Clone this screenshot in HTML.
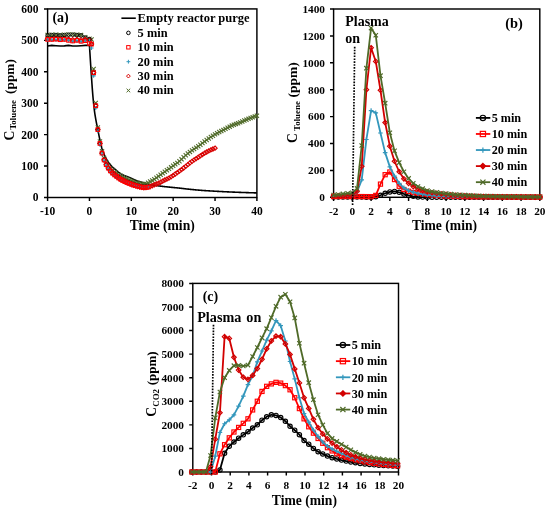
<!DOCTYPE html>
<html><head><meta charset="utf-8"><style>
html,body{margin:0;padding:0;background:#fff;}
svg{display:block;}
text{font-family:"Liberation Serif", "Times New Roman", serif;font-weight:bold;fill:#000;}
</style></head><body>
<svg width="550" height="511" viewBox="0 0 550 511">
<rect width="550" height="511" fill="#fff"/>
<rect x="47.6" y="8.92" width="209.3" height="188.58" fill="none" stroke="#000" stroke-width="1.45"/>
<path d="M47.6 197.5V201.1M89.46 197.5V201.1M131.32 197.5V201.1M173.18 197.5V201.1M215.04 197.5V201.1M256.9 197.5V201.1M44 197.5H47.6M44 166.07H47.6M44 134.64H47.6M44 103.21H47.6M44 71.78H47.6M44 40.35H47.6M44 8.92H47.6" stroke="#000" stroke-width="1.45"/>
<text x="47.6" y="215" font-size="11.5" text-anchor="middle">-10</text>
<text x="89.46" y="215" font-size="11.5" text-anchor="middle">0</text>
<text x="131.32" y="215" font-size="11.5" text-anchor="middle">10</text>
<text x="173.18" y="215" font-size="11.5" text-anchor="middle">20</text>
<text x="215.04" y="215" font-size="11.5" text-anchor="middle">30</text>
<text x="256.9" y="215" font-size="11.5" text-anchor="middle">40</text>
<text x="38.6" y="201.41" font-size="11.5" text-anchor="end">0</text>
<text x="38.6" y="169.98" font-size="11.5" text-anchor="end">100</text>
<text x="38.6" y="138.55" font-size="11.5" text-anchor="end">200</text>
<text x="38.6" y="107.12" font-size="11.5" text-anchor="end">300</text>
<text x="38.6" y="75.69" font-size="11.5" text-anchor="end">400</text>
<text x="38.6" y="44.26" font-size="11.5" text-anchor="end">500</text>
<text x="38.6" y="12.83" font-size="11.5" text-anchor="end">600</text>
<polyline points="47.6,46.01 51.79,45.38 55.97,45.69 60.16,46.01 64.34,45.85 68.53,45.38 72.72,46.01 76.9,46.01 81.09,45.69 85.27,45.38 89.46,45.38 89.46,45.38 89.88,52.3 90.3,59.01 90.72,65.51 91.13,71.78 91.55,77.96 91.97,84.08 92.39,89.9 92.81,95.18 93.23,99.77 93.65,103.92 94.06,107.7 94.48,111.09 94.9,114.09 95.32,116.74 95.74,119.15 96.16,121.44 96.58,123.61 96.99,125.65 97.41,127.62 97.83,129.62 98.25,131.71 98.67,133.87 99.09,136.03 99.51,138.11 99.93,140.04 100.34,141.91 100.76,143.75 101.18,145.51 101.6,147.16 102.02,148.66 102.44,149.97 102.86,151.17 103.27,152.31 103.69,153.39 104.11,154.41 104.53,155.37 104.95,156.28 105.37,157.15 105.79,157.96 106.2,158.74 106.62,159.47 107.04,160.17 107.46,160.84 107.88,161.48 108.3,162.09 108.72,162.68 109.13,163.25 109.55,163.79 109.97,164.31 110.39,164.81 110.81,165.29 111.23,165.75 111.65,166.2 112.06,166.63 112.48,167.03 112.9,167.41 113.32,167.78 113.74,168.13 114.16,168.48 114.58,168.83 114.99,169.18 115.41,169.53 115.83,169.89 116.25,170.26 116.67,170.63 117.09,171 117.51,171.37 117.92,171.74 118.34,172.09 118.76,172.44 119.18,172.76 119.6,173.07 120.02,173.35 120.44,173.61 120.85,173.85 121.27,174.08 121.69,174.3 122.11,174.51 122.53,174.72 122.95,174.91 123.37,175.1 123.79,175.29 124.2,175.47 124.62,175.64 125.04,175.81 125.46,175.98 125.88,176.14 126.3,176.3 126.72,176.46 127.13,176.62 127.55,176.78 127.97,176.94 128.39,177.1 128.81,177.27 129.23,177.44 129.65,177.61 130.06,177.78 130.48,177.96 130.9,178.14 131.32,178.33 131.74,178.52 132.16,178.72 132.58,178.92 132.99,179.11 133.41,179.31 133.83,179.51 134.25,179.7 134.67,179.89 135.09,180.07 135.51,180.25 135.92,180.43 136.34,180.59 136.76,180.75 137.18,180.9 137.6,181.04 138.02,181.18 138.44,181.32 138.85,181.45 139.27,181.57 139.69,181.69 140.11,181.82 140.53,181.93 140.95,182.05 141.37,182.16 141.78,182.28 142.2,182.39 142.62,182.5 143.04,182.62 143.46,182.73 143.88,182.84 144.3,182.96 144.72,183.08 145.13,183.2 145.55,183.32 145.97,183.45 146.39,183.57 146.81,183.69 147.23,183.82 147.65,183.93 148.06,184.05 148.48,184.16 148.9,184.27 149.32,184.37 149.74,184.46 150.16,184.54 150.58,184.63 150.99,184.71 151.41,184.79 151.83,184.86 152.25,184.94 152.67,185.01 153.09,185.08 153.51,185.15 153.92,185.22 154.34,185.29 154.76,185.35 155.18,185.42 155.6,185.48 156.02,185.54 156.44,185.6 156.85,185.66 157.27,185.72 157.69,185.78 158.11,185.83 158.53,185.89 158.95,185.95 159.37,186 159.78,186.06 160.2,186.11 160.62,186.16 161.04,186.21 161.46,186.27 161.88,186.32 162.3,186.36 162.72,186.41 163.13,186.46 163.55,186.51 163.97,186.55 164.39,186.6 164.81,186.65 165.23,186.69 165.65,186.74 166.06,186.78 166.48,186.82 166.9,186.87 167.32,186.91 167.74,186.95 168.16,187 168.58,187.04 168.99,187.08 169.41,187.13 169.83,187.17 170.25,187.21 170.67,187.26 171.09,187.3 171.51,187.34 171.92,187.38 172.34,187.42 172.76,187.46 173.18,187.5 173.6,187.54 174.02,187.58 174.44,187.62 174.85,187.66 175.27,187.7 175.69,187.74 176.11,187.78 176.53,187.82 176.95,187.86 177.37,187.9 177.78,187.94 178.2,187.98 178.62,188.03 179.04,188.07 179.46,188.12 179.88,188.16 180.3,188.21 180.71,188.26 181.13,188.3 181.55,188.35 181.97,188.4 182.39,188.45 182.81,188.5 183.23,188.55 183.64,188.6 184.06,188.65 184.48,188.7 184.9,188.75 185.32,188.8 185.74,188.85 186.16,188.9 186.58,188.94 186.99,188.99 187.41,189.04 187.83,189.08 188.25,189.13 188.67,189.17 189.09,189.21 189.51,189.26 189.92,189.3 190.34,189.34 190.76,189.38 191.18,189.42 191.6,189.47 192.02,189.51 192.44,189.55 192.85,189.59 193.27,189.63 193.69,189.67 194.11,189.71 194.53,189.75 194.95,189.79 195.37,189.83 195.78,189.87 196.2,189.91 196.62,189.94 197.04,189.98 197.46,190.02 197.88,190.06 198.3,190.09 198.71,190.13 199.13,190.16 199.55,190.2 199.97,190.23 200.39,190.27 200.81,190.3 201.23,190.33 201.64,190.37 202.06,190.4 202.48,190.43 202.9,190.46 203.32,190.49 203.74,190.52 204.16,190.55 204.57,190.58 204.99,190.61 205.41,190.64 205.83,190.66 206.25,190.69 206.67,190.72 207.09,190.75 207.51,190.77 207.92,190.8 208.34,190.82 208.76,190.85 209.18,190.88 209.6,190.9 210.02,190.93 210.44,190.95 210.85,190.98 211.27,191 211.69,191.03 212.11,191.05 212.53,191.07 212.95,191.1 213.37,191.12 213.78,191.14 214.2,191.17 214.62,191.19 215.04,191.21 215.46,191.24 215.88,191.26 216.3,191.28 216.71,191.31 217.13,191.33 217.55,191.35 217.97,191.37 218.39,191.4 218.81,191.42 219.23,191.44 219.64,191.46 220.06,191.48 220.48,191.51 220.9,191.53 221.32,191.55 221.74,191.57 222.16,191.59 222.57,191.61 222.99,191.63 223.41,191.66 223.83,191.68 224.25,191.7 224.67,191.72 225.09,191.74 225.5,191.76 225.92,191.78 226.34,191.8 226.76,191.82 227.18,191.84 227.6,191.86 228.02,191.88 228.44,191.9 228.85,191.92 229.27,191.94 229.69,191.95 230.11,191.97 230.53,191.99 230.95,192.01 231.37,192.03 231.78,192.05 232.2,192.07 232.62,192.08 233.04,192.1 233.46,192.12 233.88,192.14 234.3,192.15 234.71,192.17 235.13,192.19 235.55,192.2 235.97,192.22 236.39,192.24 236.81,192.25 237.23,192.27 237.64,192.28 238.06,192.3 238.48,192.32 238.9,192.33 239.32,192.35 239.74,192.36 240.16,192.38 240.57,192.39 240.99,192.41 241.41,192.43 241.83,192.44 242.25,192.46 242.67,192.47 243.09,192.49 243.5,192.5 243.92,192.52 244.34,192.53 244.76,192.54 245.18,192.56 245.6,192.57 246.02,192.59 246.44,192.6 246.85,192.62 247.27,192.63 247.69,192.64 248.11,192.66 248.53,192.67 248.95,192.68 249.37,192.7 249.78,192.71 250.2,192.72 250.62,192.73 251.04,192.75 251.46,192.76 251.88,192.77 252.3,192.78 252.71,192.8 253.13,192.81 253.55,192.82 253.97,192.83 254.39,192.84 254.81,192.86 255.23,192.87 255.64,192.88 256.06,192.89 256.48,192.9 256.9,192.91" fill="none" stroke="#000000" stroke-width="1.6" stroke-linejoin="round"/>
<path d="M45.51 32.92L49.69 37.1M45.51 37.1L49.69 32.92" stroke="#4F6A28" stroke-width="1.1"/>
<path d="M49.7 32.6L53.88 36.78M49.7 36.78L53.88 32.6" stroke="#4F6A28" stroke-width="1.1"/>
<path d="M53.88 32.6L58.06 36.78M53.88 36.78L58.06 32.6" stroke="#4F6A28" stroke-width="1.1"/>
<path d="M58.07 32.92L62.25 37.1M58.07 37.1L62.25 32.92" stroke="#4F6A28" stroke-width="1.1"/>
<path d="M62.25 32.6L66.43 36.78M62.25 36.78L66.43 32.6" stroke="#4F6A28" stroke-width="1.1"/>
<path d="M66.44 32.29L70.62 36.47M66.44 36.47L70.62 32.29" stroke="#4F6A28" stroke-width="1.1"/>
<path d="M70.63 32.29L74.81 36.47M70.63 36.47L74.81 32.29" stroke="#4F6A28" stroke-width="1.1"/>
<path d="M74.81 32.6L78.99 36.78M74.81 36.78L78.99 32.6" stroke="#4F6A28" stroke-width="1.1"/>
<path d="M79 32.92L83.18 37.1M79 37.1L83.18 32.92" stroke="#4F6A28" stroke-width="1.1"/>
<path d="M83.18 35.12L87.36 39.3M83.18 39.3L87.36 35.12" stroke="#4F6A28" stroke-width="1.1"/>
<path d="M87.37 36.69L91.55 40.87M87.37 40.87L91.55 36.69" stroke="#4F6A28" stroke-width="1.1"/>
<path d="M89.46 37.43L93.64 41.61M89.46 41.61L93.64 37.43" stroke="#4F6A28" stroke-width="1.1"/>
<path d="M91.56 66.89L95.74 71.07M91.56 71.07L95.74 66.89" stroke="#4F6A28" stroke-width="1.1"/>
<path d="M93.65 100.88L97.83 105.06M93.65 105.06L97.83 100.88" stroke="#4F6A28" stroke-width="1.1"/>
<path d="M95.74 125.48L99.92 129.66M95.74 129.66L99.92 125.48" stroke="#4F6A28" stroke-width="1.1"/>
<path d="M97.84 139.41L102.02 143.59M97.84 143.59L102.02 139.41" stroke="#4F6A28" stroke-width="1.1"/>
<path d="M99.93 149.14L104.11 153.32M99.93 153.32L104.11 149.14" stroke="#4F6A28" stroke-width="1.1"/>
<path d="M102.02 155.94L106.2 160.12M102.02 160.12L106.2 155.94" stroke="#4F6A28" stroke-width="1.1"/>
<path d="M104.11 160.48L108.29 164.66M104.11 164.66L108.29 160.48" stroke="#4F6A28" stroke-width="1.1"/>
<path d="M106.21 163.73L110.39 167.91M106.21 167.91L110.39 163.73" stroke="#4F6A28" stroke-width="1.1"/>
<path d="M108.3 166.33L112.48 170.51M108.3 170.51L112.48 166.33" stroke="#4F6A28" stroke-width="1.1"/>
<path d="M110.39 168.28L114.57 172.46M110.39 172.46L114.57 168.28" stroke="#4F6A28" stroke-width="1.1"/>
<path d="M112.49 169.91L116.67 174.09M112.49 174.09L116.67 169.91" stroke="#4F6A28" stroke-width="1.1"/>
<path d="M114.58 171.22L118.76 175.4M114.58 175.4L118.76 171.22" stroke="#4F6A28" stroke-width="1.1"/>
<path d="M116.67 172.52L120.85 176.7M116.67 176.7L120.85 172.52" stroke="#4F6A28" stroke-width="1.1"/>
<path d="M118.76 173.98L122.94 178.16M118.76 178.16L122.94 173.98" stroke="#4F6A28" stroke-width="1.1"/>
<path d="M120.86 175.11L125.04 179.29M120.86 179.29L125.04 175.11" stroke="#4F6A28" stroke-width="1.1"/>
<path d="M122.95 176.24L127.13 180.42M122.95 180.42L127.13 176.24" stroke="#4F6A28" stroke-width="1.1"/>
<path d="M125.04 177.21L129.22 181.39M125.04 181.39L129.22 177.21" stroke="#4F6A28" stroke-width="1.1"/>
<path d="M127.14 178.02L131.32 182.2M127.14 182.2L131.32 178.02" stroke="#4F6A28" stroke-width="1.1"/>
<path d="M129.23 178.83L133.41 183.01M129.23 183.01L133.41 178.83" stroke="#4F6A28" stroke-width="1.1"/>
<path d="M131.32 179.64L135.5 183.82M131.32 183.82L135.5 179.64" stroke="#4F6A28" stroke-width="1.1"/>
<path d="M133.42 180.29L137.6 184.47M133.42 184.47L137.6 180.29" stroke="#4F6A28" stroke-width="1.1"/>
<path d="M135.51 180.94L139.69 185.12M135.51 185.12L139.69 180.94" stroke="#4F6A28" stroke-width="1.1"/>
<path d="M137.6 181.42L141.78 185.6M137.6 185.6L141.78 181.42" stroke="#4F6A28" stroke-width="1.1"/>
<path d="M139.69 181.91L143.88 186.09M139.69 186.09L143.88 181.91" stroke="#4F6A28" stroke-width="1.1"/>
<path d="M141.79 182.23L145.97 186.41M141.79 186.41L145.97 182.23" stroke="#4F6A28" stroke-width="1.1"/>
<path d="M143.88 181.77L148.06 185.95M143.88 185.95L148.06 181.77" stroke="#4F6A28" stroke-width="1.1"/>
<path d="M145.97 180.64L150.15 184.82M145.97 184.82L150.15 180.64" stroke="#4F6A28" stroke-width="1.1"/>
<path d="M148.07 179.47L152.25 183.65M148.07 183.65L152.25 179.47" stroke="#4F6A28" stroke-width="1.1"/>
<path d="M150.16 178.34L154.34 182.52M150.16 182.52L154.34 178.34" stroke="#4F6A28" stroke-width="1.1"/>
<path d="M152.25 177.13L156.43 181.31M152.25 181.31L156.43 177.13" stroke="#4F6A28" stroke-width="1.1"/>
<path d="M154.35 175.73L158.53 179.91M154.35 179.91L158.53 175.73" stroke="#4F6A28" stroke-width="1.1"/>
<path d="M156.44 174.18L160.62 178.36M156.44 178.36L160.62 174.18" stroke="#4F6A28" stroke-width="1.1"/>
<path d="M158.53 172.65L162.71 176.83M158.53 176.83L162.71 172.65" stroke="#4F6A28" stroke-width="1.1"/>
<path d="M160.62 171.14L164.81 175.32M160.62 175.32L164.81 171.14" stroke="#4F6A28" stroke-width="1.1"/>
<path d="M162.72 169.66L166.9 173.84M162.72 173.84L166.9 169.66" stroke="#4F6A28" stroke-width="1.1"/>
<path d="M164.81 168.23L168.99 172.41M164.81 172.41L168.99 168.23" stroke="#4F6A28" stroke-width="1.1"/>
<path d="M166.9 166.79L171.08 170.97M166.9 170.97L171.08 166.79" stroke="#4F6A28" stroke-width="1.1"/>
<path d="M169 165.25L173.18 169.43M169 169.43L173.18 165.25" stroke="#4F6A28" stroke-width="1.1"/>
<path d="M171.09 163.65L175.27 167.83M171.09 167.83L175.27 163.65" stroke="#4F6A28" stroke-width="1.1"/>
<path d="M173.18 162.18L177.36 166.36M173.18 166.36L177.36 162.18" stroke="#4F6A28" stroke-width="1.1"/>
<path d="M175.28 160.8L179.46 164.98M175.28 164.98L179.46 160.8" stroke="#4F6A28" stroke-width="1.1"/>
<path d="M177.37 159.23L181.55 163.41M177.37 163.41L181.55 159.23" stroke="#4F6A28" stroke-width="1.1"/>
<path d="M179.46 157.24L183.64 161.42M179.46 161.42L183.64 157.24" stroke="#4F6A28" stroke-width="1.1"/>
<path d="M181.55 155.1L185.73 159.28M181.55 159.28L185.73 155.1" stroke="#4F6A28" stroke-width="1.1"/>
<path d="M183.65 153.2L187.83 157.38M183.65 157.38L187.83 153.2" stroke="#4F6A28" stroke-width="1.1"/>
<path d="M185.74 151.46L189.92 155.64M185.74 155.64L189.92 151.46" stroke="#4F6A28" stroke-width="1.1"/>
<path d="M187.83 149.82L192.01 154M187.83 154L192.01 149.82" stroke="#4F6A28" stroke-width="1.1"/>
<path d="M189.93 148.28L194.11 152.46M189.93 152.46L194.11 148.28" stroke="#4F6A28" stroke-width="1.1"/>
<path d="M192.02 146.87L196.2 151.05M192.02 151.05L196.2 146.87" stroke="#4F6A28" stroke-width="1.1"/>
<path d="M194.11 145.54L198.29 149.72M194.11 149.72L198.29 145.54" stroke="#4F6A28" stroke-width="1.1"/>
<path d="M196.21 144.16L200.39 148.34M196.21 148.34L200.39 144.16" stroke="#4F6A28" stroke-width="1.1"/>
<path d="M198.3 142.64L202.48 146.82M198.3 146.82L202.48 142.64" stroke="#4F6A28" stroke-width="1.1"/>
<path d="M200.39 141.05L204.57 145.23M200.39 145.23L204.57 141.05" stroke="#4F6A28" stroke-width="1.1"/>
<path d="M202.48 139.45L206.66 143.63M202.48 143.63L206.66 139.45" stroke="#4F6A28" stroke-width="1.1"/>
<path d="M204.58 137.92L208.76 142.1M204.58 142.1L208.76 137.92" stroke="#4F6A28" stroke-width="1.1"/>
<path d="M206.67 136.41L210.85 140.59M206.67 140.59L210.85 136.41" stroke="#4F6A28" stroke-width="1.1"/>
<path d="M208.76 134.95L212.94 139.13M208.76 139.13L212.94 134.95" stroke="#4F6A28" stroke-width="1.1"/>
<path d="M210.86 133.59L215.04 137.77M210.86 137.77L215.04 133.59" stroke="#4F6A28" stroke-width="1.1"/>
<path d="M212.95 132.3L217.13 136.48M212.95 136.48L217.13 132.3" stroke="#4F6A28" stroke-width="1.1"/>
<path d="M215.04 131.08L219.22 135.26M215.04 135.26L219.22 131.08" stroke="#4F6A28" stroke-width="1.1"/>
<path d="M217.14 129.92L221.32 134.1M217.14 134.1L221.32 129.92" stroke="#4F6A28" stroke-width="1.1"/>
<path d="M219.23 128.84L223.41 133.02M219.23 133.02L223.41 128.84" stroke="#4F6A28" stroke-width="1.1"/>
<path d="M221.32 127.82L225.5 132M221.32 132L225.5 127.82" stroke="#4F6A28" stroke-width="1.1"/>
<path d="M223.41 126.79L227.59 130.97M223.41 130.97L227.59 126.79" stroke="#4F6A28" stroke-width="1.1"/>
<path d="M225.51 125.7L229.69 129.88M225.51 129.88L229.69 125.7" stroke="#4F6A28" stroke-width="1.1"/>
<path d="M227.6 124.56L231.78 128.74M227.6 128.74L231.78 124.56" stroke="#4F6A28" stroke-width="1.1"/>
<path d="M229.69 123.5L233.87 127.68M229.69 127.68L233.87 123.5" stroke="#4F6A28" stroke-width="1.1"/>
<path d="M231.79 122.6L235.97 126.78M231.79 126.78L235.97 122.6" stroke="#4F6A28" stroke-width="1.1"/>
<path d="M233.88 121.83L238.06 126.01M233.88 126.01L238.06 121.83" stroke="#4F6A28" stroke-width="1.1"/>
<path d="M235.97 121.09L240.15 125.27M235.97 125.27L240.15 121.09" stroke="#4F6A28" stroke-width="1.1"/>
<path d="M238.07 120.27L242.25 124.45M238.07 124.45L242.25 120.27" stroke="#4F6A28" stroke-width="1.1"/>
<path d="M240.16 119.38L244.34 123.56M240.16 123.56L244.34 119.38" stroke="#4F6A28" stroke-width="1.1"/>
<path d="M242.25 118.48L246.43 122.66M242.25 122.66L246.43 118.48" stroke="#4F6A28" stroke-width="1.1"/>
<path d="M244.34 117.61L248.53 121.79M244.34 121.79L248.53 117.61" stroke="#4F6A28" stroke-width="1.1"/>
<path d="M246.44 116.74L250.62 120.92M246.44 120.92L250.62 116.74" stroke="#4F6A28" stroke-width="1.1"/>
<path d="M248.53 115.9L252.71 120.08M248.53 120.08L252.71 115.9" stroke="#4F6A28" stroke-width="1.1"/>
<path d="M250.62 115.1L254.8 119.28M250.62 119.28L254.8 115.1" stroke="#4F6A28" stroke-width="1.1"/>
<path d="M252.72 114.37L256.9 118.55M252.72 118.55L256.9 114.37" stroke="#4F6A28" stroke-width="1.1"/>
<path d="M254.81 113.69L258.99 117.87M254.81 117.87L258.99 113.69" stroke="#4F6A28" stroke-width="1.1"/>
<path d="M47.6 36.63L49.75 38.78L47.6 40.93L45.45 38.78Z" fill="none" stroke="#D80000" stroke-width="1.1"/>
<path d="M51.79 36.63L53.94 38.78L51.79 40.93L49.64 38.78Z" fill="none" stroke="#D80000" stroke-width="1.1"/>
<path d="M55.97 36.31L58.12 38.46L55.97 40.61L53.82 38.46Z" fill="none" stroke="#D80000" stroke-width="1.1"/>
<path d="M60.16 36.63L62.31 38.78L60.16 40.93L58.01 38.78Z" fill="none" stroke="#D80000" stroke-width="1.1"/>
<path d="M64.34 36.31L66.49 38.46L64.34 40.61L62.19 38.46Z" fill="none" stroke="#D80000" stroke-width="1.1"/>
<path d="M68.53 36.94L70.68 39.09L68.53 41.24L66.38 39.09Z" fill="none" stroke="#D80000" stroke-width="1.1"/>
<path d="M72.72 37.57L74.87 39.72L72.72 41.87L70.57 39.72Z" fill="none" stroke="#D80000" stroke-width="1.1"/>
<path d="M76.9 37.26L79.05 39.41L76.9 41.56L74.75 39.41Z" fill="none" stroke="#D80000" stroke-width="1.1"/>
<path d="M81.09 37.57L83.24 39.72L81.09 41.87L78.94 39.72Z" fill="none" stroke="#D80000" stroke-width="1.1"/>
<path d="M85.27 37.26L87.42 39.41L85.27 41.56L83.12 39.41Z" fill="none" stroke="#D80000" stroke-width="1.1"/>
<path d="M89.46 37.57L91.61 39.72L89.46 41.87L87.31 39.72Z" fill="none" stroke="#D80000" stroke-width="1.1"/>
<path d="M91.55 41.97L93.7 44.12L91.55 46.27L89.4 44.12Z" fill="none" stroke="#D80000" stroke-width="1.1"/>
<path d="M93.65 70.57L95.8 72.72L93.65 74.87L91.5 72.72Z" fill="none" stroke="#D80000" stroke-width="1.1"/>
<path d="M95.74 103.57L97.89 105.72L95.74 107.87L93.59 105.72Z" fill="none" stroke="#D80000" stroke-width="1.1"/>
<path d="M97.83 127.46L99.98 129.61L97.83 131.76L95.68 129.61Z" fill="none" stroke="#D80000" stroke-width="1.1"/>
<path d="M99.93 141.29L102.08 143.44L99.93 145.59L97.78 143.44Z" fill="none" stroke="#D80000" stroke-width="1.1"/>
<path d="M102.02 151.03L104.17 153.18L102.02 155.33L99.87 153.18Z" fill="none" stroke="#D80000" stroke-width="1.1"/>
<path d="M104.11 157.95L106.26 160.1L104.11 162.25L101.96 160.1Z" fill="none" stroke="#D80000" stroke-width="1.1"/>
<path d="M106.2 162.66L108.35 164.81L106.2 166.96L104.05 164.81Z" fill="none" stroke="#D80000" stroke-width="1.1"/>
<path d="M108.3 166.12L110.45 168.27L108.3 170.42L106.15 168.27Z" fill="none" stroke="#D80000" stroke-width="1.1"/>
<path d="M110.39 168.95L112.54 171.1L110.39 173.25L108.24 171.1Z" fill="none" stroke="#D80000" stroke-width="1.1"/>
<path d="M112.48 171.15L114.63 173.3L112.48 175.45L110.33 173.3Z" fill="none" stroke="#D80000" stroke-width="1.1"/>
<path d="M114.58 173.03L116.73 175.18L114.58 177.33L112.43 175.18Z" fill="none" stroke="#D80000" stroke-width="1.1"/>
<path d="M116.67 174.61L118.82 176.76L116.67 178.91L114.52 176.76Z" fill="none" stroke="#D80000" stroke-width="1.1"/>
<path d="M118.76 176.18L120.91 178.33L118.76 180.48L116.61 178.33Z" fill="none" stroke="#D80000" stroke-width="1.1"/>
<path d="M120.85 177.59L123 179.74L120.85 181.89L118.7 179.74Z" fill="none" stroke="#D80000" stroke-width="1.1"/>
<path d="M122.95 178.69L125.1 180.84L122.95 182.99L120.8 180.84Z" fill="none" stroke="#D80000" stroke-width="1.1"/>
<path d="M125.04 179.79L127.19 181.94L125.04 184.09L122.89 181.94Z" fill="none" stroke="#D80000" stroke-width="1.1"/>
<path d="M127.13 180.74L129.28 182.89L127.13 185.04L124.98 182.89Z" fill="none" stroke="#D80000" stroke-width="1.1"/>
<path d="M129.23 181.52L131.38 183.67L129.23 185.82L127.08 183.67Z" fill="none" stroke="#D80000" stroke-width="1.1"/>
<path d="M131.32 182.31L133.47 184.46L131.32 186.61L129.17 184.46Z" fill="none" stroke="#D80000" stroke-width="1.1"/>
<path d="M133.41 183.09L135.56 185.24L133.41 187.39L131.26 185.24Z" fill="none" stroke="#D80000" stroke-width="1.1"/>
<path d="M135.51 183.72L137.66 185.87L135.51 188.02L133.36 185.87Z" fill="none" stroke="#D80000" stroke-width="1.1"/>
<path d="M137.6 184.35L139.75 186.5L137.6 188.65L135.45 186.5Z" fill="none" stroke="#D80000" stroke-width="1.1"/>
<path d="M139.69 184.82L141.84 186.97L139.69 189.12L137.54 186.97Z" fill="none" stroke="#D80000" stroke-width="1.1"/>
<path d="M141.78 185.29L143.94 187.44L141.78 189.59L139.63 187.44Z" fill="none" stroke="#D80000" stroke-width="1.1"/>
<path d="M143.88 185.61L146.03 187.76L143.88 189.91L141.73 187.76Z" fill="none" stroke="#D80000" stroke-width="1.1"/>
<path d="M145.97 185.53L148.12 187.68L145.97 189.83L143.82 187.68Z" fill="none" stroke="#D80000" stroke-width="1.1"/>
<path d="M148.06 185.02L150.21 187.17L148.06 189.32L145.91 187.17Z" fill="none" stroke="#D80000" stroke-width="1.1"/>
<path d="M150.16 184.38L152.31 186.53L150.16 188.68L148.01 186.53Z" fill="none" stroke="#D80000" stroke-width="1.1"/>
<path d="M152.25 183.55L154.4 185.7L152.25 187.85L150.1 185.7Z" fill="none" stroke="#D80000" stroke-width="1.1"/>
<path d="M154.34 182.63L156.49 184.78L154.34 186.93L152.19 184.78Z" fill="none" stroke="#D80000" stroke-width="1.1"/>
<path d="M156.44 181.82L158.59 183.97L156.44 186.12L154.29 183.97Z" fill="none" stroke="#D80000" stroke-width="1.1"/>
<path d="M158.53 181.02L160.68 183.17L158.53 185.32L156.38 183.17Z" fill="none" stroke="#D80000" stroke-width="1.1"/>
<path d="M160.62 180.07L162.77 182.22L160.62 184.37L158.47 182.22Z" fill="none" stroke="#D80000" stroke-width="1.1"/>
<path d="M162.72 178.95L164.87 181.1L162.72 183.25L160.56 181.1Z" fill="none" stroke="#D80000" stroke-width="1.1"/>
<path d="M164.81 177.86L166.96 180.01L164.81 182.16L162.66 180.01Z" fill="none" stroke="#D80000" stroke-width="1.1"/>
<path d="M166.9 176.92L169.05 179.07L166.9 181.22L164.75 179.07Z" fill="none" stroke="#D80000" stroke-width="1.1"/>
<path d="M168.99 175.93L171.14 178.08L168.99 180.23L166.84 178.08Z" fill="none" stroke="#D80000" stroke-width="1.1"/>
<path d="M171.09 174.7L173.24 176.85L171.09 179L168.94 176.85Z" fill="none" stroke="#D80000" stroke-width="1.1"/>
<path d="M173.18 173.29L175.33 175.44L173.18 177.59L171.03 175.44Z" fill="none" stroke="#D80000" stroke-width="1.1"/>
<path d="M175.27 171.88L177.42 174.03L175.27 176.18L173.12 174.03Z" fill="none" stroke="#D80000" stroke-width="1.1"/>
<path d="M177.37 170.44L179.52 172.59L177.37 174.74L175.22 172.59Z" fill="none" stroke="#D80000" stroke-width="1.1"/>
<path d="M179.46 168.96L181.61 171.11L179.46 173.26L177.31 171.11Z" fill="none" stroke="#D80000" stroke-width="1.1"/>
<path d="M181.55 167.42L183.7 169.57L181.55 171.72L179.4 169.57Z" fill="none" stroke="#D80000" stroke-width="1.1"/>
<path d="M183.64 165.83L185.79 167.98L183.64 170.13L181.49 167.98Z" fill="none" stroke="#D80000" stroke-width="1.1"/>
<path d="M185.74 164.2L187.89 166.35L185.74 168.5L183.59 166.35Z" fill="none" stroke="#D80000" stroke-width="1.1"/>
<path d="M187.83 162.5L189.98 164.65L187.83 166.8L185.68 164.65Z" fill="none" stroke="#D80000" stroke-width="1.1"/>
<path d="M189.92 160.79L192.07 162.94L189.92 165.09L187.77 162.94Z" fill="none" stroke="#D80000" stroke-width="1.1"/>
<path d="M192.02 159.22L194.17 161.37L192.02 163.52L189.87 161.37Z" fill="none" stroke="#D80000" stroke-width="1.1"/>
<path d="M194.11 157.78L196.26 159.93L194.11 162.08L191.96 159.93Z" fill="none" stroke="#D80000" stroke-width="1.1"/>
<path d="M196.2 156.42L198.35 158.57L196.2 160.72L194.05 158.57Z" fill="none" stroke="#D80000" stroke-width="1.1"/>
<path d="M198.3 155.08L200.45 157.23L198.3 159.38L196.15 157.23Z" fill="none" stroke="#D80000" stroke-width="1.1"/>
<path d="M200.39 153.7L202.54 155.85L200.39 158L198.24 155.85Z" fill="none" stroke="#D80000" stroke-width="1.1"/>
<path d="M202.48 152.31L204.63 154.46L202.48 156.61L200.33 154.46Z" fill="none" stroke="#D80000" stroke-width="1.1"/>
<path d="M204.57 151.01L206.72 153.16L204.57 155.31L202.42 153.16Z" fill="none" stroke="#D80000" stroke-width="1.1"/>
<path d="M206.67 149.85L208.82 152L206.67 154.15L204.52 152Z" fill="none" stroke="#D80000" stroke-width="1.1"/>
<path d="M208.76 148.77L210.91 150.92L208.76 153.07L206.61 150.92Z" fill="none" stroke="#D80000" stroke-width="1.1"/>
<path d="M210.85 147.76L213 149.91L210.85 152.06L208.7 149.91Z" fill="none" stroke="#D80000" stroke-width="1.1"/>
<path d="M212.95 146.83L215.1 148.98L212.95 151.13L210.8 148.98Z" fill="none" stroke="#D80000" stroke-width="1.1"/>
<path d="M215.04 146L217.19 148.15L215.04 150.3L212.89 148.15Z" fill="none" stroke="#D80000" stroke-width="1.1"/>
<circle cx="47.6" cy="35.32" r="1.8" fill="none" stroke="#000000" stroke-width="0.9"/>
<circle cx="51.79" cy="35.01" r="1.8" fill="none" stroke="#000000" stroke-width="0.9"/>
<circle cx="55.97" cy="35.01" r="1.8" fill="none" stroke="#000000" stroke-width="0.9"/>
<circle cx="60.16" cy="35.32" r="1.8" fill="none" stroke="#000000" stroke-width="0.9"/>
<circle cx="64.34" cy="35.01" r="1.8" fill="none" stroke="#000000" stroke-width="0.9"/>
<circle cx="68.53" cy="34.69" r="1.8" fill="none" stroke="#000000" stroke-width="0.9"/>
<circle cx="72.72" cy="34.69" r="1.8" fill="none" stroke="#000000" stroke-width="0.9"/>
<circle cx="76.9" cy="35.01" r="1.8" fill="none" stroke="#000000" stroke-width="0.9"/>
<circle cx="81.09" cy="35.32" r="1.8" fill="none" stroke="#000000" stroke-width="0.9"/>
<circle cx="85.27" cy="37.52" r="1.8" fill="none" stroke="#000000" stroke-width="0.9"/>
<circle cx="89.46" cy="39.09" r="1.8" fill="none" stroke="#000000" stroke-width="0.9"/>
<circle cx="91.55" cy="44.12" r="1.8" fill="none" stroke="#000000" stroke-width="0.9"/>
<circle cx="93.65" cy="72.72" r="1.8" fill="none" stroke="#000000" stroke-width="0.9"/>
<circle cx="95.74" cy="105.72" r="1.8" fill="none" stroke="#000000" stroke-width="0.9"/>
<circle cx="97.83" cy="129.61" r="1.8" fill="none" stroke="#000000" stroke-width="0.9"/>
<circle cx="99.93" cy="143.35" r="1.8" fill="none" stroke="#000000" stroke-width="0.9"/>
<circle cx="102.02" cy="153" r="1.8" fill="none" stroke="#000000" stroke-width="0.9"/>
<circle cx="104.11" cy="159.82" r="1.8" fill="none" stroke="#000000" stroke-width="0.9"/>
<circle cx="106.2" cy="164.44" r="1.8" fill="none" stroke="#000000" stroke-width="0.9"/>
<circle cx="108.3" cy="167.8" r="1.8" fill="none" stroke="#000000" stroke-width="0.9"/>
<circle cx="110.39" cy="170.53" r="1.8" fill="none" stroke="#000000" stroke-width="0.9"/>
<circle cx="112.48" cy="172.64" r="1.8" fill="none" stroke="#000000" stroke-width="0.9"/>
<circle cx="114.58" cy="174.43" r="1.8" fill="none" stroke="#000000" stroke-width="0.9"/>
<circle cx="116.67" cy="175.91" r="1.8" fill="none" stroke="#000000" stroke-width="0.9"/>
<circle cx="118.76" cy="177.38" r="1.8" fill="none" stroke="#000000" stroke-width="0.9"/>
<circle cx="120.85" cy="178.8" r="1.8" fill="none" stroke="#000000" stroke-width="0.9"/>
<circle cx="122.95" cy="179.9" r="1.8" fill="none" stroke="#000000" stroke-width="0.9"/>
<circle cx="125.04" cy="181" r="1.8" fill="none" stroke="#000000" stroke-width="0.9"/>
<circle cx="127.13" cy="181.94" r="1.8" fill="none" stroke="#000000" stroke-width="0.9"/>
<circle cx="129.23" cy="182.73" r="1.8" fill="none" stroke="#000000" stroke-width="0.9"/>
<circle cx="131.32" cy="183.51" r="1.8" fill="none" stroke="#000000" stroke-width="0.9"/>
<circle cx="133.41" cy="184.3" r="1.8" fill="none" stroke="#000000" stroke-width="0.9"/>
<circle cx="135.51" cy="184.93" r="1.8" fill="none" stroke="#000000" stroke-width="0.9"/>
<circle cx="137.6" cy="185.56" r="1.8" fill="none" stroke="#000000" stroke-width="0.9"/>
<circle cx="139.69" cy="186.03" r="1.8" fill="none" stroke="#000000" stroke-width="0.9"/>
<circle cx="141.78" cy="186.5" r="1.8" fill="none" stroke="#000000" stroke-width="0.9"/>
<circle cx="143.88" cy="186.81" r="1.8" fill="none" stroke="#000000" stroke-width="0.9"/>
<circle cx="145.97" cy="186.66" r="1.8" fill="none" stroke="#000000" stroke-width="0.9"/>
<path d="M45.6 40.04H49.6M47.6 38.04V42.04" stroke="#3397BC" stroke-width="1.1"/>
<path d="M49.79 40.04H53.79M51.79 38.04V42.04" stroke="#3397BC" stroke-width="1.1"/>
<path d="M53.97 39.72H57.97M55.97 37.72V41.72" stroke="#3397BC" stroke-width="1.1"/>
<path d="M58.16 40.04H62.16M60.16 38.04V42.04" stroke="#3397BC" stroke-width="1.1"/>
<path d="M62.34 39.72H66.34M64.34 37.72V41.72" stroke="#3397BC" stroke-width="1.1"/>
<path d="M66.53 40.35H70.53M68.53 38.35V42.35" stroke="#3397BC" stroke-width="1.1"/>
<path d="M70.72 41.29H74.72M72.72 39.29V43.29" stroke="#3397BC" stroke-width="1.1"/>
<path d="M74.9 40.66H78.9M76.9 38.66V42.66" stroke="#3397BC" stroke-width="1.1"/>
<path d="M79.09 41.61H83.09M81.09 39.61V43.61" stroke="#3397BC" stroke-width="1.1"/>
<path d="M83.27 40.98H87.27M85.27 38.98V42.98" stroke="#3397BC" stroke-width="1.1"/>
<path d="M87.46 41.29H91.46M89.46 39.29V43.29" stroke="#3397BC" stroke-width="1.1"/>
<path d="M89.55 47.96H93.55M91.55 45.96V49.96" stroke="#3397BC" stroke-width="1.1"/>
<path d="M91.65 75.84H95.65M93.65 73.84V77.84" stroke="#3397BC" stroke-width="1.1"/>
<path d="M93.74 108.02H97.74M95.74 106.02V110.02" stroke="#3397BC" stroke-width="1.1"/>
<path d="M95.83 131.31H99.83M97.83 129.31V133.31" stroke="#3397BC" stroke-width="1.1"/>
<path d="M97.93 144.73H101.93M99.93 142.73V146.73" stroke="#3397BC" stroke-width="1.1"/>
<path d="M100.02 154.17H104.02M102.02 152.17V156.17" stroke="#3397BC" stroke-width="1.1"/>
<path d="M102.11 160.84H106.11M104.11 158.84V162.84" stroke="#3397BC" stroke-width="1.1"/>
<path d="M104.2 165.38H108.2M106.2 163.38V167.38" stroke="#3397BC" stroke-width="1.1"/>
<path d="M106.3 168.69H110.3M108.3 166.69V170.69" stroke="#3397BC" stroke-width="1.1"/>
<path d="M108.39 171.38H112.39M110.39 169.38V173.38" stroke="#3397BC" stroke-width="1.1"/>
<path d="M110.48 173.46H114.48M112.48 171.46V175.46" stroke="#3397BC" stroke-width="1.1"/>
<path d="M112.58 175.24H116.58M114.58 173.24V177.24" stroke="#3397BC" stroke-width="1.1"/>
<path d="M114.67 176.71H118.67M116.67 174.71V178.71" stroke="#3397BC" stroke-width="1.1"/>
<path d="M116.76 178.18H120.76M118.76 176.18V180.18" stroke="#3397BC" stroke-width="1.1"/>
<path d="M118.85 179.56H122.85M120.85 177.56V181.56" stroke="#3397BC" stroke-width="1.1"/>
<path d="M120.95 180.63H124.95M122.95 178.63V182.63" stroke="#3397BC" stroke-width="1.1"/>
<path d="M123.04 181.7H127.04M125.04 179.7V183.7" stroke="#3397BC" stroke-width="1.1"/>
<path d="M125.13 182.62H129.13M127.13 180.62V184.62" stroke="#3397BC" stroke-width="1.1"/>
<path d="M127.23 183.39H131.23M129.23 181.39V185.39" stroke="#3397BC" stroke-width="1.1"/>
<path d="M129.32 184.15H133.32M131.32 182.15V186.15" stroke="#3397BC" stroke-width="1.1"/>
<path d="M131.41 184.92H135.41M133.41 182.92V186.92" stroke="#3397BC" stroke-width="1.1"/>
<path d="M133.51 185.53H137.51M135.51 183.53V187.53" stroke="#3397BC" stroke-width="1.1"/>
<path d="M135.6 186.15H139.6M137.6 184.15V188.15" stroke="#3397BC" stroke-width="1.1"/>
<path d="M137.69 186.61H141.69M139.69 184.61V188.61" stroke="#3397BC" stroke-width="1.1"/>
<path d="M139.78 187.07H143.78M141.78 185.07V189.07" stroke="#3397BC" stroke-width="1.1"/>
<path d="M141.88 187.37H145.88M143.88 185.37V189.37" stroke="#3397BC" stroke-width="1.1"/>
<path d="M143.97 186.97H147.97M145.97 184.97V188.97" stroke="#3397BC" stroke-width="1.1"/>
<path d="M146.06 186.81H150.06M148.06 184.81V188.81" stroke="#3397BC" stroke-width="1.1"/>
<rect x="45.8" y="37.61" width="3.6" height="3.6" fill="none" stroke="#FF0000" stroke-width="1.1"/>
<rect x="49.99" y="37.61" width="3.6" height="3.6" fill="none" stroke="#FF0000" stroke-width="1.1"/>
<rect x="54.17" y="37.29" width="3.6" height="3.6" fill="none" stroke="#FF0000" stroke-width="1.1"/>
<rect x="58.36" y="37.92" width="3.6" height="3.6" fill="none" stroke="#FF0000" stroke-width="1.1"/>
<rect x="62.54" y="37.61" width="3.6" height="3.6" fill="none" stroke="#FF0000" stroke-width="1.1"/>
<rect x="66.73" y="38.55" width="3.6" height="3.6" fill="none" stroke="#FF0000" stroke-width="1.1"/>
<rect x="70.92" y="39.18" width="3.6" height="3.6" fill="none" stroke="#FF0000" stroke-width="1.1"/>
<rect x="75.1" y="38.55" width="3.6" height="3.6" fill="none" stroke="#FF0000" stroke-width="1.1"/>
<rect x="79.29" y="39.49" width="3.6" height="3.6" fill="none" stroke="#FF0000" stroke-width="1.1"/>
<rect x="83.47" y="38.86" width="3.6" height="3.6" fill="none" stroke="#FF0000" stroke-width="1.1"/>
<rect x="87.66" y="41.69" width="3.6" height="3.6" fill="none" stroke="#FF0000" stroke-width="1.1"/>
<rect x="89.75" y="42.32" width="3.6" height="3.6" fill="none" stroke="#FF0000" stroke-width="1.1"/>
<rect x="91.85" y="70.92" width="3.6" height="3.6" fill="none" stroke="#FF0000" stroke-width="1.1"/>
<rect x="93.94" y="103.92" width="3.6" height="3.6" fill="none" stroke="#FF0000" stroke-width="1.1"/>
<rect x="96.03" y="127.81" width="3.6" height="3.6" fill="none" stroke="#FF0000" stroke-width="1.1"/>
<rect x="98.13" y="141.61" width="3.6" height="3.6" fill="none" stroke="#FF0000" stroke-width="1.1"/>
<rect x="100.22" y="151.32" width="3.6" height="3.6" fill="none" stroke="#FF0000" stroke-width="1.1"/>
<rect x="102.31" y="158.2" width="3.6" height="3.6" fill="none" stroke="#FF0000" stroke-width="1.1"/>
<rect x="104.4" y="162.89" width="3.6" height="3.6" fill="none" stroke="#FF0000" stroke-width="1.1"/>
<rect x="106.5" y="166.31" width="3.6" height="3.6" fill="none" stroke="#FF0000" stroke-width="1.1"/>
<rect x="108.59" y="169.11" width="3.6" height="3.6" fill="none" stroke="#FF0000" stroke-width="1.1"/>
<rect x="110.68" y="171.28" width="3.6" height="3.6" fill="none" stroke="#FF0000" stroke-width="1.1"/>
<rect x="112.78" y="173.13" width="3.6" height="3.6" fill="none" stroke="#FF0000" stroke-width="1.1"/>
<rect x="114.87" y="174.67" width="3.6" height="3.6" fill="none" stroke="#FF0000" stroke-width="1.1"/>
<rect x="116.96" y="176.21" width="3.6" height="3.6" fill="none" stroke="#FF0000" stroke-width="1.1"/>
<rect x="119.05" y="177.63" width="3.6" height="3.6" fill="none" stroke="#FF0000" stroke-width="1.1"/>
<rect x="121.15" y="178.73" width="3.6" height="3.6" fill="none" stroke="#FF0000" stroke-width="1.1"/>
<rect x="123.24" y="179.83" width="3.6" height="3.6" fill="none" stroke="#FF0000" stroke-width="1.1"/>
<rect x="125.33" y="180.77" width="3.6" height="3.6" fill="none" stroke="#FF0000" stroke-width="1.1"/>
<rect x="127.43" y="181.56" width="3.6" height="3.6" fill="none" stroke="#FF0000" stroke-width="1.1"/>
<rect x="129.52" y="182.34" width="3.6" height="3.6" fill="none" stroke="#FF0000" stroke-width="1.1"/>
<rect x="131.61" y="183.13" width="3.6" height="3.6" fill="none" stroke="#FF0000" stroke-width="1.1"/>
<rect x="133.71" y="183.76" width="3.6" height="3.6" fill="none" stroke="#FF0000" stroke-width="1.1"/>
<rect x="135.8" y="184.39" width="3.6" height="3.6" fill="none" stroke="#FF0000" stroke-width="1.1"/>
<rect x="137.89" y="184.86" width="3.6" height="3.6" fill="none" stroke="#FF0000" stroke-width="1.1"/>
<rect x="139.98" y="185.33" width="3.6" height="3.6" fill="none" stroke="#FF0000" stroke-width="1.1"/>
<rect x="142.08" y="185.64" width="3.6" height="3.6" fill="none" stroke="#FF0000" stroke-width="1.1"/>
<rect x="144.17" y="185.49" width="3.6" height="3.6" fill="none" stroke="#FF0000" stroke-width="1.1"/>
<rect x="146.26" y="185.33" width="3.6" height="3.6" fill="none" stroke="#FF0000" stroke-width="1.1"/>
<path d="M121.4 18.2H135.8" stroke="#000" stroke-width="1.6"/>
<text x="137.6" y="22.3" font-size="12.5" text-anchor="start">Empty reactor purge</text>
<circle cx="128.4" cy="32.9" r="1.8" fill="none" stroke="#000000" stroke-width="1.0"/>
<text x="137.6" y="36.8" font-size="12.4" text-anchor="start">5 min</text>
<rect x="126.69" y="45.59" width="3.42" height="3.42" fill="none" stroke="#FF0000" stroke-width="1.0"/>
<text x="137.6" y="51.2" font-size="12.4" text-anchor="start">10 min</text>
<path d="M126.5 61.7H130.3M128.4 59.8V63.6" stroke="#3397BC" stroke-width="1.0"/>
<text x="137.6" y="65.6" font-size="12.4" text-anchor="start">20 min</text>
<path d="M128.4 74.2L130.3 76.1L128.4 78L126.5 76.1Z" fill="none" stroke="#D80000" stroke-width="1.0"/>
<text x="137.6" y="80" font-size="12.4" text-anchor="start">30 min</text>
<path d="M126.59 88.69L130.21 92.31M126.59 92.31L130.21 88.69" stroke="#4F6A28" stroke-width="1.0"/>
<text x="137.6" y="94.4" font-size="12.4" text-anchor="start">40 min</text>
<text x="52.4" y="22.4" font-size="14" text-anchor="start">(a)</text>
<text x="162.2" y="229.7" font-size="13.6" text-anchor="middle">Time (min)</text>
<text transform="translate(14.2 140.6) rotate(-90)" font-size="13.6">C</text>
<text transform="translate(15.6 129.8) rotate(-90)" font-size="8.9">Toluene</text>
<text transform="translate(14.2 93.9) rotate(-90)" font-size="13.3">(ppm)</text>
<rect x="333.6" y="9" width="206.21" height="188.3" fill="none" stroke="#000" stroke-width="1.45"/>
<path d="M333.6 197.3V200.9M352.35 197.3V200.9M371.09 197.3V200.9M389.84 197.3V200.9M408.58 197.3V200.9M427.33 197.3V200.9M446.08 197.3V200.9M464.82 197.3V200.9M483.57 197.3V200.9M502.31 197.3V200.9M521.06 197.3V200.9M539.81 197.3V200.9M330 197.3H333.6M330 170.4H333.6M330 143.5H333.6M330 116.6H333.6M330 89.7H333.6M330 62.8H333.6M330 35.9H333.6M330 9H333.6" stroke="#000" stroke-width="1.45"/>
<text x="333.6" y="214.8" font-size="11.3" text-anchor="middle">-2</text>
<text x="352.35" y="214.8" font-size="11.3" text-anchor="middle">0</text>
<text x="371.09" y="214.8" font-size="11.3" text-anchor="middle">2</text>
<text x="389.84" y="214.8" font-size="11.3" text-anchor="middle">4</text>
<text x="408.58" y="214.8" font-size="11.3" text-anchor="middle">6</text>
<text x="427.33" y="214.8" font-size="11.3" text-anchor="middle">8</text>
<text x="446.08" y="214.8" font-size="11.3" text-anchor="middle">10</text>
<text x="464.82" y="214.8" font-size="11.3" text-anchor="middle">12</text>
<text x="483.57" y="214.8" font-size="11.3" text-anchor="middle">14</text>
<text x="502.31" y="214.8" font-size="11.3" text-anchor="middle">16</text>
<text x="521.06" y="214.8" font-size="11.3" text-anchor="middle">18</text>
<text x="539.81" y="214.8" font-size="11.3" text-anchor="middle">20</text>
<text x="325" y="201.14" font-size="11.3" text-anchor="end">0</text>
<text x="325" y="174.24" font-size="11.3" text-anchor="end">200</text>
<text x="325" y="147.34" font-size="11.3" text-anchor="end">400</text>
<text x="325" y="120.44" font-size="11.3" text-anchor="end">600</text>
<text x="325" y="93.54" font-size="11.3" text-anchor="end">800</text>
<text x="325" y="66.64" font-size="11.3" text-anchor="end">1000</text>
<text x="325" y="39.74" font-size="11.3" text-anchor="end">1200</text>
<text x="325" y="12.84" font-size="11.3" text-anchor="end">1400</text>
<polyline points="333.6,197.03 338.29,197.03 342.97,197.03 347.66,197.03 352.35,197.03 357.03,197.05 361.72,197.1 366.41,197.14 371.09,197.17 375.78,196.76 380.47,195.28 385.15,193.27 389.84,191.92 394.52,191.38 399.21,192.32 403.9,193.94 408.58,195.42 413.27,196.36 417.96,196.9 422.64,197.09 427.33,197.17 432.02,197.18 436.7,197.19 441.39,197.2 446.08,197.22 450.76,197.23 455.45,197.24 460.14,197.24 464.82,197.25 469.51,197.26 474.2,197.27 478.88,197.27 483.57,197.28 488.25,197.28 492.94,197.28 497.63,197.29 502.31,197.29 507,197.29 511.69,197.3 516.37,197.3 521.06,197.3 525.75,197.3 530.43,197.3 535.12,197.3 539.81,197.3" fill="none" stroke="#000000" stroke-width="1.8" stroke-linejoin="round"/>
<circle cx="333.6" cy="197.03" r="2.18" fill="none" stroke="#000000" stroke-width="1.15"/>
<circle cx="338.29" cy="197.03" r="2.18" fill="none" stroke="#000000" stroke-width="1.15"/>
<circle cx="342.97" cy="197.03" r="2.18" fill="none" stroke="#000000" stroke-width="1.15"/>
<circle cx="347.66" cy="197.03" r="2.18" fill="none" stroke="#000000" stroke-width="1.15"/>
<circle cx="352.35" cy="197.03" r="2.18" fill="none" stroke="#000000" stroke-width="1.15"/>
<circle cx="357.03" cy="197.05" r="2.18" fill="none" stroke="#000000" stroke-width="1.15"/>
<circle cx="361.72" cy="197.1" r="2.18" fill="none" stroke="#000000" stroke-width="1.15"/>
<circle cx="366.41" cy="197.14" r="2.18" fill="none" stroke="#000000" stroke-width="1.15"/>
<circle cx="371.09" cy="197.17" r="2.18" fill="none" stroke="#000000" stroke-width="1.15"/>
<circle cx="375.78" cy="196.76" r="2.18" fill="none" stroke="#000000" stroke-width="1.15"/>
<circle cx="380.47" cy="195.28" r="2.18" fill="none" stroke="#000000" stroke-width="1.15"/>
<circle cx="385.15" cy="193.27" r="2.18" fill="none" stroke="#000000" stroke-width="1.15"/>
<circle cx="389.84" cy="191.92" r="2.18" fill="none" stroke="#000000" stroke-width="1.15"/>
<circle cx="394.52" cy="191.38" r="2.18" fill="none" stroke="#000000" stroke-width="1.15"/>
<circle cx="399.21" cy="192.32" r="2.18" fill="none" stroke="#000000" stroke-width="1.15"/>
<circle cx="403.9" cy="193.94" r="2.18" fill="none" stroke="#000000" stroke-width="1.15"/>
<circle cx="408.58" cy="195.42" r="2.18" fill="none" stroke="#000000" stroke-width="1.15"/>
<circle cx="413.27" cy="196.36" r="2.18" fill="none" stroke="#000000" stroke-width="1.15"/>
<circle cx="417.96" cy="196.9" r="2.18" fill="none" stroke="#000000" stroke-width="1.15"/>
<circle cx="422.64" cy="197.09" r="2.18" fill="none" stroke="#000000" stroke-width="1.15"/>
<circle cx="427.33" cy="197.17" r="2.18" fill="none" stroke="#000000" stroke-width="1.15"/>
<circle cx="432.02" cy="197.18" r="2.18" fill="none" stroke="#000000" stroke-width="1.15"/>
<circle cx="436.7" cy="197.19" r="2.18" fill="none" stroke="#000000" stroke-width="1.15"/>
<circle cx="441.39" cy="197.2" r="2.18" fill="none" stroke="#000000" stroke-width="1.15"/>
<circle cx="446.08" cy="197.22" r="2.18" fill="none" stroke="#000000" stroke-width="1.15"/>
<circle cx="450.76" cy="197.23" r="2.18" fill="none" stroke="#000000" stroke-width="1.15"/>
<circle cx="455.45" cy="197.24" r="2.18" fill="none" stroke="#000000" stroke-width="1.15"/>
<circle cx="460.14" cy="197.24" r="2.18" fill="none" stroke="#000000" stroke-width="1.15"/>
<circle cx="464.82" cy="197.25" r="2.18" fill="none" stroke="#000000" stroke-width="1.15"/>
<circle cx="469.51" cy="197.26" r="2.18" fill="none" stroke="#000000" stroke-width="1.15"/>
<circle cx="474.2" cy="197.27" r="2.18" fill="none" stroke="#000000" stroke-width="1.15"/>
<circle cx="478.88" cy="197.27" r="2.18" fill="none" stroke="#000000" stroke-width="1.15"/>
<circle cx="483.57" cy="197.28" r="2.18" fill="none" stroke="#000000" stroke-width="1.15"/>
<circle cx="488.25" cy="197.28" r="2.18" fill="none" stroke="#000000" stroke-width="1.15"/>
<circle cx="492.94" cy="197.28" r="2.18" fill="none" stroke="#000000" stroke-width="1.15"/>
<circle cx="497.63" cy="197.29" r="2.18" fill="none" stroke="#000000" stroke-width="1.15"/>
<circle cx="502.31" cy="197.29" r="2.18" fill="none" stroke="#000000" stroke-width="1.15"/>
<circle cx="507" cy="197.29" r="2.18" fill="none" stroke="#000000" stroke-width="1.15"/>
<circle cx="511.69" cy="197.3" r="2.18" fill="none" stroke="#000000" stroke-width="1.15"/>
<circle cx="516.37" cy="197.3" r="2.18" fill="none" stroke="#000000" stroke-width="1.15"/>
<circle cx="521.06" cy="197.3" r="2.18" fill="none" stroke="#000000" stroke-width="1.15"/>
<circle cx="525.75" cy="197.3" r="2.18" fill="none" stroke="#000000" stroke-width="1.15"/>
<circle cx="530.43" cy="197.3" r="2.18" fill="none" stroke="#000000" stroke-width="1.15"/>
<circle cx="535.12" cy="197.3" r="2.18" fill="none" stroke="#000000" stroke-width="1.15"/>
<circle cx="539.81" cy="197.3" r="2.18" fill="none" stroke="#000000" stroke-width="1.15"/>
<polyline points="333.6,196.49 338.29,196.49 342.97,196.49 347.66,196.49 352.35,196.49 357.03,196.51 361.72,196.56 366.41,196.61 371.09,196.63 375.78,195.42 380.47,184.12 385.15,174.7 389.84,172.01 394.52,179.55 399.21,186.27 403.9,189.5 408.58,191.25 413.27,192.46 417.96,193.27 422.64,193.95 427.33,194.54 432.02,195.03 436.7,195.47 441.39,195.84 446.08,196.09 450.76,196.26 455.45,196.41 460.14,196.53 464.82,196.64 469.51,196.71 474.2,196.76 478.88,196.8 483.57,196.83 488.25,196.86 492.94,196.89 497.63,196.92 502.31,196.94 507,196.96 511.69,196.98 516.37,196.99 521.06,197.01 525.75,197.02 530.43,197.02 535.12,197.03 539.81,197.03" fill="none" stroke="#FF0000" stroke-width="1.8" stroke-linejoin="round"/>
<rect x="331.53" y="194.42" width="4.14" height="4.14" fill="none" stroke="#FF0000" stroke-width="1.15"/>
<rect x="336.22" y="194.42" width="4.14" height="4.14" fill="none" stroke="#FF0000" stroke-width="1.15"/>
<rect x="340.9" y="194.42" width="4.14" height="4.14" fill="none" stroke="#FF0000" stroke-width="1.15"/>
<rect x="345.59" y="194.42" width="4.14" height="4.14" fill="none" stroke="#FF0000" stroke-width="1.15"/>
<rect x="350.28" y="194.42" width="4.14" height="4.14" fill="none" stroke="#FF0000" stroke-width="1.15"/>
<rect x="354.96" y="194.44" width="4.14" height="4.14" fill="none" stroke="#FF0000" stroke-width="1.15"/>
<rect x="359.65" y="194.49" width="4.14" height="4.14" fill="none" stroke="#FF0000" stroke-width="1.15"/>
<rect x="364.34" y="194.54" width="4.14" height="4.14" fill="none" stroke="#FF0000" stroke-width="1.15"/>
<rect x="369.02" y="194.56" width="4.14" height="4.14" fill="none" stroke="#FF0000" stroke-width="1.15"/>
<rect x="373.71" y="193.35" width="4.14" height="4.14" fill="none" stroke="#FF0000" stroke-width="1.15"/>
<rect x="378.4" y="182.05" width="4.14" height="4.14" fill="none" stroke="#FF0000" stroke-width="1.15"/>
<rect x="383.08" y="172.63" width="4.14" height="4.14" fill="none" stroke="#FF0000" stroke-width="1.15"/>
<rect x="387.77" y="169.94" width="4.14" height="4.14" fill="none" stroke="#FF0000" stroke-width="1.15"/>
<rect x="392.45" y="177.48" width="4.14" height="4.14" fill="none" stroke="#FF0000" stroke-width="1.15"/>
<rect x="397.14" y="184.2" width="4.14" height="4.14" fill="none" stroke="#FF0000" stroke-width="1.15"/>
<rect x="401.83" y="187.43" width="4.14" height="4.14" fill="none" stroke="#FF0000" stroke-width="1.15"/>
<rect x="406.51" y="189.18" width="4.14" height="4.14" fill="none" stroke="#FF0000" stroke-width="1.15"/>
<rect x="411.2" y="190.39" width="4.14" height="4.14" fill="none" stroke="#FF0000" stroke-width="1.15"/>
<rect x="415.89" y="191.2" width="4.14" height="4.14" fill="none" stroke="#FF0000" stroke-width="1.15"/>
<rect x="420.57" y="191.88" width="4.14" height="4.14" fill="none" stroke="#FF0000" stroke-width="1.15"/>
<rect x="425.26" y="192.47" width="4.14" height="4.14" fill="none" stroke="#FF0000" stroke-width="1.15"/>
<rect x="429.95" y="192.96" width="4.14" height="4.14" fill="none" stroke="#FF0000" stroke-width="1.15"/>
<rect x="434.63" y="193.4" width="4.14" height="4.14" fill="none" stroke="#FF0000" stroke-width="1.15"/>
<rect x="439.32" y="193.77" width="4.14" height="4.14" fill="none" stroke="#FF0000" stroke-width="1.15"/>
<rect x="444.01" y="194.02" width="4.14" height="4.14" fill="none" stroke="#FF0000" stroke-width="1.15"/>
<rect x="448.69" y="194.19" width="4.14" height="4.14" fill="none" stroke="#FF0000" stroke-width="1.15"/>
<rect x="453.38" y="194.34" width="4.14" height="4.14" fill="none" stroke="#FF0000" stroke-width="1.15"/>
<rect x="458.07" y="194.46" width="4.14" height="4.14" fill="none" stroke="#FF0000" stroke-width="1.15"/>
<rect x="462.75" y="194.57" width="4.14" height="4.14" fill="none" stroke="#FF0000" stroke-width="1.15"/>
<rect x="467.44" y="194.64" width="4.14" height="4.14" fill="none" stroke="#FF0000" stroke-width="1.15"/>
<rect x="472.13" y="194.69" width="4.14" height="4.14" fill="none" stroke="#FF0000" stroke-width="1.15"/>
<rect x="476.81" y="194.73" width="4.14" height="4.14" fill="none" stroke="#FF0000" stroke-width="1.15"/>
<rect x="481.5" y="194.76" width="4.14" height="4.14" fill="none" stroke="#FF0000" stroke-width="1.15"/>
<rect x="486.18" y="194.79" width="4.14" height="4.14" fill="none" stroke="#FF0000" stroke-width="1.15"/>
<rect x="490.87" y="194.82" width="4.14" height="4.14" fill="none" stroke="#FF0000" stroke-width="1.15"/>
<rect x="495.56" y="194.85" width="4.14" height="4.14" fill="none" stroke="#FF0000" stroke-width="1.15"/>
<rect x="500.24" y="194.87" width="4.14" height="4.14" fill="none" stroke="#FF0000" stroke-width="1.15"/>
<rect x="504.93" y="194.89" width="4.14" height="4.14" fill="none" stroke="#FF0000" stroke-width="1.15"/>
<rect x="509.62" y="194.91" width="4.14" height="4.14" fill="none" stroke="#FF0000" stroke-width="1.15"/>
<rect x="514.3" y="194.92" width="4.14" height="4.14" fill="none" stroke="#FF0000" stroke-width="1.15"/>
<rect x="518.99" y="194.94" width="4.14" height="4.14" fill="none" stroke="#FF0000" stroke-width="1.15"/>
<rect x="523.68" y="194.95" width="4.14" height="4.14" fill="none" stroke="#FF0000" stroke-width="1.15"/>
<rect x="528.36" y="194.95" width="4.14" height="4.14" fill="none" stroke="#FF0000" stroke-width="1.15"/>
<rect x="533.05" y="194.96" width="4.14" height="4.14" fill="none" stroke="#FF0000" stroke-width="1.15"/>
<rect x="537.74" y="194.96" width="4.14" height="4.14" fill="none" stroke="#FF0000" stroke-width="1.15"/>
<polyline points="333.6,196.22 338.29,196.22 342.97,196.2 347.66,196.16 352.35,196.09 357.03,191.92 361.72,179.81 366.41,139.47 371.09,110.55 375.78,112.83 380.47,133.01 385.15,152.65 389.84,166.9 394.52,176.05 399.21,183.31 403.9,187.89 408.58,190.58 413.27,192.19 417.96,193.4 422.64,194.25 427.33,194.88 432.02,195.38 436.7,195.81 441.39,196.15 446.08,196.36 450.76,196.47 455.45,196.57 460.14,196.66 464.82,196.73 469.51,196.79 474.2,196.84 478.88,196.87 483.57,196.9 488.25,196.92 492.94,196.93 497.63,196.95 502.31,196.97 507,196.98 511.69,196.99 516.37,197 521.06,197.01 525.75,197.02 530.43,197.03 535.12,197.03 539.81,197.03" fill="none" stroke="#3397BC" stroke-width="1.8" stroke-linejoin="round"/>
<path d="M331.3 196.22H335.9M333.6 193.92V198.52" stroke="#3397BC" stroke-width="1.15"/>
<path d="M335.99 196.22H340.59M338.29 193.92V198.52" stroke="#3397BC" stroke-width="1.15"/>
<path d="M340.67 196.2H345.27M342.97 193.9V198.5" stroke="#3397BC" stroke-width="1.15"/>
<path d="M345.36 196.16H349.96M347.66 193.86V198.46" stroke="#3397BC" stroke-width="1.15"/>
<path d="M350.05 196.09H354.65M352.35 193.79V198.39" stroke="#3397BC" stroke-width="1.15"/>
<path d="M354.73 191.92H359.33M357.03 189.62V194.22" stroke="#3397BC" stroke-width="1.15"/>
<path d="M359.42 179.81H364.02M361.72 177.51V182.12" stroke="#3397BC" stroke-width="1.15"/>
<path d="M364.11 139.47H368.71M366.41 137.16V141.77" stroke="#3397BC" stroke-width="1.15"/>
<path d="M368.79 110.55H373.39M371.09 108.25V112.85" stroke="#3397BC" stroke-width="1.15"/>
<path d="M373.48 112.83H378.08M375.78 110.53V115.13" stroke="#3397BC" stroke-width="1.15"/>
<path d="M378.17 133.01H382.77M380.47 130.71V135.31" stroke="#3397BC" stroke-width="1.15"/>
<path d="M382.85 152.65H387.45M385.15 150.35V154.95" stroke="#3397BC" stroke-width="1.15"/>
<path d="M387.54 166.9H392.14M389.84 164.6V169.2" stroke="#3397BC" stroke-width="1.15"/>
<path d="M392.22 176.05H396.82M394.52 173.75V178.35" stroke="#3397BC" stroke-width="1.15"/>
<path d="M396.91 183.31H401.51M399.21 181.01V185.61" stroke="#3397BC" stroke-width="1.15"/>
<path d="M401.6 187.89H406.2M403.9 185.59V190.19" stroke="#3397BC" stroke-width="1.15"/>
<path d="M406.28 190.58H410.88M408.58 188.28V192.88" stroke="#3397BC" stroke-width="1.15"/>
<path d="M410.97 192.19H415.57M413.27 189.89V194.49" stroke="#3397BC" stroke-width="1.15"/>
<path d="M415.66 193.4H420.26M417.96 191.1V195.7" stroke="#3397BC" stroke-width="1.15"/>
<path d="M420.34 194.25H424.94M422.64 191.95V196.55" stroke="#3397BC" stroke-width="1.15"/>
<path d="M425.03 194.88H429.63M427.33 192.58V197.18" stroke="#3397BC" stroke-width="1.15"/>
<path d="M429.72 195.38H434.32M432.02 193.08V197.68" stroke="#3397BC" stroke-width="1.15"/>
<path d="M434.4 195.81H439M436.7 193.51V198.11" stroke="#3397BC" stroke-width="1.15"/>
<path d="M439.09 196.15H443.69M441.39 193.85V198.45" stroke="#3397BC" stroke-width="1.15"/>
<path d="M443.78 196.36H448.38M446.08 194.06V198.66" stroke="#3397BC" stroke-width="1.15"/>
<path d="M448.46 196.47H453.06M450.76 194.17V198.77" stroke="#3397BC" stroke-width="1.15"/>
<path d="M453.15 196.57H457.75M455.45 194.27V198.87" stroke="#3397BC" stroke-width="1.15"/>
<path d="M457.84 196.66H462.44M460.14 194.36V198.96" stroke="#3397BC" stroke-width="1.15"/>
<path d="M462.52 196.73H467.12M464.82 194.43V199.03" stroke="#3397BC" stroke-width="1.15"/>
<path d="M467.21 196.79H471.81M469.51 194.49V199.09" stroke="#3397BC" stroke-width="1.15"/>
<path d="M471.9 196.84H476.5M474.2 194.54V199.14" stroke="#3397BC" stroke-width="1.15"/>
<path d="M476.58 196.87H481.18M478.88 194.57V199.17" stroke="#3397BC" stroke-width="1.15"/>
<path d="M481.27 196.9H485.87M483.57 194.6V199.2" stroke="#3397BC" stroke-width="1.15"/>
<path d="M485.95 196.92H490.55M488.25 194.62V199.22" stroke="#3397BC" stroke-width="1.15"/>
<path d="M490.64 196.93H495.24M492.94 194.63V199.23" stroke="#3397BC" stroke-width="1.15"/>
<path d="M495.33 196.95H499.93M497.63 194.65V199.25" stroke="#3397BC" stroke-width="1.15"/>
<path d="M500.01 196.97H504.61M502.31 194.67V199.27" stroke="#3397BC" stroke-width="1.15"/>
<path d="M504.7 196.98H509.3M507 194.68V199.28" stroke="#3397BC" stroke-width="1.15"/>
<path d="M509.39 196.99H513.99M511.69 194.69V199.29" stroke="#3397BC" stroke-width="1.15"/>
<path d="M514.07 197H518.67M516.37 194.7V199.3" stroke="#3397BC" stroke-width="1.15"/>
<path d="M518.76 197.01H523.36M521.06 194.71V199.31" stroke="#3397BC" stroke-width="1.15"/>
<path d="M523.45 197.02H528.05M525.75 194.72V199.32" stroke="#3397BC" stroke-width="1.15"/>
<path d="M528.13 197.03H532.73M530.43 194.73V199.33" stroke="#3397BC" stroke-width="1.15"/>
<path d="M532.82 197.03H537.42M535.12 194.73V199.33" stroke="#3397BC" stroke-width="1.15"/>
<path d="M537.51 197.03H542.11M539.81 194.73V199.33" stroke="#3397BC" stroke-width="1.15"/>
<polyline points="333.6,195.96 338.29,195.93 342.97,195.85 347.66,195.68 352.35,195.42 357.03,191.25 361.72,166.37 366.41,89.7 371.09,47.74 375.78,61.46 380.47,90.24 385.15,122.52 389.84,146.19 394.52,161.25 399.21,171.75 403.9,178.87 408.58,183.31 413.27,186.54 417.96,188.96 422.64,190.67 427.33,191.92 432.02,192.75 436.7,193.4 441.39,193.99 446.08,194.48 450.76,194.88 455.45,195.25 460.14,195.56 464.82,195.82 469.51,196.03 474.2,196.22 478.88,196.37 483.57,196.49 488.25,196.59 492.94,196.67 497.63,196.74 502.31,196.81 507,196.86 511.69,196.9 516.37,196.93 521.06,196.96 525.75,196.99 530.43,197.01 535.12,197.03 539.81,197.03" fill="none" stroke="#D20000" stroke-width="1.8" stroke-linejoin="round"/>
<path d="M333.6 193.66L335.9 195.96L333.6 198.26L331.3 195.96Z" fill="none" stroke="#D20000" stroke-width="1.15"/>
<path d="M338.29 193.63L340.59 195.93L338.29 198.23L335.99 195.93Z" fill="none" stroke="#D20000" stroke-width="1.15"/>
<path d="M342.97 193.55L345.27 195.85L342.97 198.15L340.67 195.85Z" fill="none" stroke="#D20000" stroke-width="1.15"/>
<path d="M347.66 193.38L349.96 195.68L347.66 197.98L345.36 195.68Z" fill="none" stroke="#D20000" stroke-width="1.15"/>
<path d="M352.35 193.12L354.65 195.42L352.35 197.72L350.05 195.42Z" fill="none" stroke="#D20000" stroke-width="1.15"/>
<path d="M357.03 188.95L359.33 191.25L357.03 193.55L354.73 191.25Z" fill="none" stroke="#D20000" stroke-width="1.15"/>
<path d="M361.72 164.06L364.02 166.37L361.72 168.67L359.42 166.37Z" fill="none" stroke="#D20000" stroke-width="1.15"/>
<path d="M366.41 87.4L368.71 89.7L366.41 92L364.11 89.7Z" fill="none" stroke="#D20000" stroke-width="1.15"/>
<path d="M371.09 45.44L373.39 47.74L371.09 50.04L368.79 47.74Z" fill="none" stroke="#D20000" stroke-width="1.15"/>
<path d="M375.78 59.16L378.08 61.46L375.78 63.76L373.48 61.46Z" fill="none" stroke="#D20000" stroke-width="1.15"/>
<path d="M380.47 87.94L382.77 90.24L380.47 92.54L378.17 90.24Z" fill="none" stroke="#D20000" stroke-width="1.15"/>
<path d="M385.15 120.22L387.45 122.52L385.15 124.82L382.85 122.52Z" fill="none" stroke="#D20000" stroke-width="1.15"/>
<path d="M389.84 143.89L392.14 146.19L389.84 148.49L387.54 146.19Z" fill="none" stroke="#D20000" stroke-width="1.15"/>
<path d="M394.52 158.95L396.82 161.25L394.52 163.55L392.22 161.25Z" fill="none" stroke="#D20000" stroke-width="1.15"/>
<path d="M399.21 169.44L401.51 171.75L399.21 174.05L396.91 171.75Z" fill="none" stroke="#D20000" stroke-width="1.15"/>
<path d="M403.9 176.57L406.2 178.87L403.9 181.17L401.6 178.87Z" fill="none" stroke="#D20000" stroke-width="1.15"/>
<path d="M408.58 181.01L410.88 183.31L408.58 185.61L406.28 183.31Z" fill="none" stroke="#D20000" stroke-width="1.15"/>
<path d="M413.27 184.24L415.57 186.54L413.27 188.84L410.97 186.54Z" fill="none" stroke="#D20000" stroke-width="1.15"/>
<path d="M417.96 186.66L420.26 188.96L417.96 191.26L415.66 188.96Z" fill="none" stroke="#D20000" stroke-width="1.15"/>
<path d="M422.64 188.37L424.94 190.67L422.64 192.97L420.34 190.67Z" fill="none" stroke="#D20000" stroke-width="1.15"/>
<path d="M427.33 189.62L429.63 191.92L427.33 194.22L425.03 191.92Z" fill="none" stroke="#D20000" stroke-width="1.15"/>
<path d="M432.02 190.45L434.32 192.75L432.02 195.05L429.72 192.75Z" fill="none" stroke="#D20000" stroke-width="1.15"/>
<path d="M436.7 191.1L439 193.4L436.7 195.7L434.4 193.4Z" fill="none" stroke="#D20000" stroke-width="1.15"/>
<path d="M441.39 191.69L443.69 193.99L441.39 196.29L439.09 193.99Z" fill="none" stroke="#D20000" stroke-width="1.15"/>
<path d="M446.08 192.18L448.38 194.48L446.08 196.78L443.78 194.48Z" fill="none" stroke="#D20000" stroke-width="1.15"/>
<path d="M450.76 192.58L453.06 194.88L450.76 197.18L448.46 194.88Z" fill="none" stroke="#D20000" stroke-width="1.15"/>
<path d="M455.45 192.95L457.75 195.25L455.45 197.55L453.15 195.25Z" fill="none" stroke="#D20000" stroke-width="1.15"/>
<path d="M460.14 193.26L462.44 195.56L460.14 197.86L457.84 195.56Z" fill="none" stroke="#D20000" stroke-width="1.15"/>
<path d="M464.82 193.52L467.12 195.82L464.82 198.12L462.52 195.82Z" fill="none" stroke="#D20000" stroke-width="1.15"/>
<path d="M469.51 193.73L471.81 196.03L469.51 198.33L467.21 196.03Z" fill="none" stroke="#D20000" stroke-width="1.15"/>
<path d="M474.2 193.92L476.5 196.22L474.2 198.52L471.9 196.22Z" fill="none" stroke="#D20000" stroke-width="1.15"/>
<path d="M478.88 194.07L481.18 196.37L478.88 198.67L476.58 196.37Z" fill="none" stroke="#D20000" stroke-width="1.15"/>
<path d="M483.57 194.19L485.87 196.49L483.57 198.79L481.27 196.49Z" fill="none" stroke="#D20000" stroke-width="1.15"/>
<path d="M488.25 194.29L490.55 196.59L488.25 198.89L485.95 196.59Z" fill="none" stroke="#D20000" stroke-width="1.15"/>
<path d="M492.94 194.37L495.24 196.67L492.94 198.97L490.64 196.67Z" fill="none" stroke="#D20000" stroke-width="1.15"/>
<path d="M497.63 194.44L499.93 196.74L497.63 199.04L495.33 196.74Z" fill="none" stroke="#D20000" stroke-width="1.15"/>
<path d="M502.31 194.51L504.61 196.81L502.31 199.11L500.01 196.81Z" fill="none" stroke="#D20000" stroke-width="1.15"/>
<path d="M507 194.56L509.3 196.86L507 199.16L504.7 196.86Z" fill="none" stroke="#D20000" stroke-width="1.15"/>
<path d="M511.69 194.6L513.99 196.9L511.69 199.2L509.39 196.9Z" fill="none" stroke="#D20000" stroke-width="1.15"/>
<path d="M516.37 194.63L518.67 196.93L516.37 199.23L514.07 196.93Z" fill="none" stroke="#D20000" stroke-width="1.15"/>
<path d="M521.06 194.66L523.36 196.96L521.06 199.26L518.76 196.96Z" fill="none" stroke="#D20000" stroke-width="1.15"/>
<path d="M525.75 194.69L528.05 196.99L525.75 199.29L523.45 196.99Z" fill="none" stroke="#D20000" stroke-width="1.15"/>
<path d="M530.43 194.71L532.73 197.01L530.43 199.31L528.13 197.01Z" fill="none" stroke="#D20000" stroke-width="1.15"/>
<path d="M535.12 194.73L537.42 197.03L535.12 199.33L532.82 197.03Z" fill="none" stroke="#D20000" stroke-width="1.15"/>
<path d="M539.81 194.73L542.11 197.03L539.81 199.33L537.51 197.03Z" fill="none" stroke="#D20000" stroke-width="1.15"/>
<polyline points="333.6,195.15 338.29,194.61 342.97,193.8 347.66,193.27 352.35,192.86 357.03,188.42 361.72,145.52 366.41,68.18 371.09,28.1 375.78,35.23 380.47,75.71 385.15,103.15 389.84,132.74 394.52,150.9 399.21,162.6 403.9,171.75 408.58,178.47 413.27,183.31 417.96,186.54 422.64,188.69 427.33,190.58 432.02,191.58 436.7,192.32 441.39,192.98 446.08,193.53 450.76,194.04 455.45,194.48 460.14,194.84 464.82,195.15 469.51,195.43 474.2,195.69 478.88,195.91 483.57,196.09 488.25,196.22 492.94,196.32 497.63,196.41 502.31,196.49 507,196.57 511.69,196.65 516.37,196.71 521.06,196.76 525.75,196.81 530.43,196.84 535.12,196.87 539.81,196.9" fill="none" stroke="#4F6A28" stroke-width="1.8" stroke-linejoin="round"/>
<path d="M331.42 192.96L335.79 197.33M331.42 197.33L335.79 192.96" stroke="#4F6A28" stroke-width="1.15"/>
<path d="M336.1 192.43L340.47 196.8M336.1 196.8L340.47 192.43" stroke="#4F6A28" stroke-width="1.15"/>
<path d="M340.79 191.62L345.16 195.99M340.79 195.99L345.16 191.62" stroke="#4F6A28" stroke-width="1.15"/>
<path d="M345.47 191.08L349.84 195.45M345.47 195.45L349.84 191.08" stroke="#4F6A28" stroke-width="1.15"/>
<path d="M350.16 190.68L354.53 195.05M350.16 195.05L354.53 190.68" stroke="#4F6A28" stroke-width="1.15"/>
<path d="M354.85 186.24L359.22 190.61M354.85 190.61L359.22 186.24" stroke="#4F6A28" stroke-width="1.15"/>
<path d="M359.53 143.33L363.9 147.7M359.53 147.7L363.9 143.33" stroke="#4F6A28" stroke-width="1.15"/>
<path d="M364.22 66L368.59 70.37M364.22 70.37L368.59 66" stroke="#4F6A28" stroke-width="1.15"/>
<path d="M368.91 25.91L373.28 30.28M368.91 30.28L373.28 25.91" stroke="#4F6A28" stroke-width="1.15"/>
<path d="M373.59 33.04L377.96 37.41M373.59 37.41L377.96 33.04" stroke="#4F6A28" stroke-width="1.15"/>
<path d="M378.28 73.53L382.65 77.9M378.28 77.9L382.65 73.53" stroke="#4F6A28" stroke-width="1.15"/>
<path d="M382.97 100.97L387.34 105.34M382.97 105.34L387.34 100.97" stroke="#4F6A28" stroke-width="1.15"/>
<path d="M387.65 130.56L392.02 134.93M387.65 134.93L392.02 130.56" stroke="#4F6A28" stroke-width="1.15"/>
<path d="M392.34 148.71L396.71 153.08M392.34 153.08L396.71 148.71" stroke="#4F6A28" stroke-width="1.15"/>
<path d="M397.03 160.41L401.4 164.78M397.03 164.78L401.4 160.41" stroke="#4F6A28" stroke-width="1.15"/>
<path d="M401.71 169.56L406.08 173.93M401.71 173.93L406.08 169.56" stroke="#4F6A28" stroke-width="1.15"/>
<path d="M406.4 176.28L410.77 180.66M406.4 180.66L410.77 176.28" stroke="#4F6A28" stroke-width="1.15"/>
<path d="M411.09 181.13L415.46 185.5M411.09 185.5L415.46 181.13" stroke="#4F6A28" stroke-width="1.15"/>
<path d="M415.77 184.36L420.14 188.73M415.77 188.73L420.14 184.36" stroke="#4F6A28" stroke-width="1.15"/>
<path d="M420.46 186.51L424.83 190.88M420.46 190.88L424.83 186.51" stroke="#4F6A28" stroke-width="1.15"/>
<path d="M425.15 188.39L429.52 192.76M425.15 192.76L429.52 188.39" stroke="#4F6A28" stroke-width="1.15"/>
<path d="M429.83 189.4L434.2 193.77M429.83 193.77L434.2 189.4" stroke="#4F6A28" stroke-width="1.15"/>
<path d="M434.52 190.14L438.89 194.51M434.52 194.51L438.89 190.14" stroke="#4F6A28" stroke-width="1.15"/>
<path d="M439.2 190.79L443.57 195.16M439.2 195.16L443.57 190.79" stroke="#4F6A28" stroke-width="1.15"/>
<path d="M443.89 191.35L448.26 195.72M443.89 195.72L448.26 191.35" stroke="#4F6A28" stroke-width="1.15"/>
<path d="M448.58 191.85L452.95 196.22M448.58 196.22L452.95 191.85" stroke="#4F6A28" stroke-width="1.15"/>
<path d="M453.26 192.29L457.63 196.66M453.26 196.66L457.63 192.29" stroke="#4F6A28" stroke-width="1.15"/>
<path d="M457.95 192.65L462.32 197.02M457.95 197.02L462.32 192.65" stroke="#4F6A28" stroke-width="1.15"/>
<path d="M462.64 192.96L467.01 197.33M462.64 197.33L467.01 192.96" stroke="#4F6A28" stroke-width="1.15"/>
<path d="M467.32 193.25L471.69 197.62M467.32 197.62L471.69 193.25" stroke="#4F6A28" stroke-width="1.15"/>
<path d="M472.01 193.5L476.38 197.87M472.01 197.87L476.38 193.5" stroke="#4F6A28" stroke-width="1.15"/>
<path d="M476.7 193.73L481.07 198.1M476.7 198.1L481.07 193.73" stroke="#4F6A28" stroke-width="1.15"/>
<path d="M481.38 193.9L485.75 198.27M481.38 198.27L485.75 193.9" stroke="#4F6A28" stroke-width="1.15"/>
<path d="M486.07 194.03L490.44 198.4M486.07 198.4L490.44 194.03" stroke="#4F6A28" stroke-width="1.15"/>
<path d="M490.76 194.14L495.13 198.51M490.76 198.51L495.13 194.14" stroke="#4F6A28" stroke-width="1.15"/>
<path d="M495.44 194.23L499.81 198.6M495.44 198.6L499.81 194.23" stroke="#4F6A28" stroke-width="1.15"/>
<path d="M500.13 194.31L504.5 198.68M500.13 198.68L504.5 194.31" stroke="#4F6A28" stroke-width="1.15"/>
<path d="M504.82 194.39L509.19 198.76M504.82 198.76L509.19 194.39" stroke="#4F6A28" stroke-width="1.15"/>
<path d="M509.5 194.46L513.87 198.83M509.5 198.83L513.87 194.46" stroke="#4F6A28" stroke-width="1.15"/>
<path d="M514.19 194.52L518.56 198.89M514.19 198.89L518.56 194.52" stroke="#4F6A28" stroke-width="1.15"/>
<path d="M518.88 194.58L523.24 198.95M518.88 198.95L523.24 194.58" stroke="#4F6A28" stroke-width="1.15"/>
<path d="M523.56 194.62L527.93 198.99M523.56 198.99L527.93 194.62" stroke="#4F6A28" stroke-width="1.15"/>
<path d="M528.25 194.66L532.62 199.03M528.25 199.03L532.62 194.66" stroke="#4F6A28" stroke-width="1.15"/>
<path d="M532.93 194.69L537.3 199.06M532.93 199.06L537.3 194.69" stroke="#4F6A28" stroke-width="1.15"/>
<path d="M537.62 194.71L541.99 199.08M537.62 199.08L541.99 194.71" stroke="#4F6A28" stroke-width="1.15"/>
<path d="M354.7 46.8L352.6 205" stroke="#000" stroke-width="1.7" stroke-dasharray="1.6 1.3"/>
<text x="345.2" y="26.1" font-size="14" text-anchor="start">Plasma</text>
<text x="345.2" y="42.9" font-size="14" text-anchor="start">on</text>
<text x="505.3" y="28.3" font-size="14.4" text-anchor="start">(b)</text>
<text x="444.5" y="230" font-size="13.6" text-anchor="middle">Time (min)</text>
<text transform="translate(296.5 143) rotate(-90)" font-size="13.6">C</text>
<text transform="translate(300.0 130.9) rotate(-90)" font-size="8.9">Toluene</text>
<text transform="translate(296.5 97.5) rotate(-90)" font-size="13.5">(ppm)</text>
<path d="M475.9 117.9H490.3" stroke="#000000" stroke-width="1.8"/>
<circle cx="482.9" cy="117.9" r="2.66" fill="none" stroke="#000000" stroke-width="1.2"/>
<text x="491.7" y="122.1" font-size="12.2" text-anchor="start">5 min</text>
<path d="M475.9 133.97H490.3" stroke="#FF0000" stroke-width="1.8"/>
<rect x="480.29" y="131.36" width="5.22" height="5.22" fill="none" stroke="#FF0000" stroke-width="1.2"/>
<text x="491.7" y="138.17" font-size="12.2" text-anchor="start">10 min</text>
<path d="M475.9 150.04H490.3" stroke="#3397BC" stroke-width="1.8"/>
<path d="M480.3 150.04H485.5M482.9 147.44V152.64" stroke="#3397BC" stroke-width="1.2"/>
<text x="491.7" y="154.24" font-size="12.2" text-anchor="start">20 min</text>
<path d="M475.9 166.11H490.3" stroke="#D20000" stroke-width="1.8"/>
<path d="M482.9 163.41L485.6 166.11L482.9 168.81L480.2 166.11Z" fill="#D20000" stroke="#D20000" stroke-width="1.2"/>
<text x="491.7" y="170.31" font-size="12.2" text-anchor="start">30 min</text>
<path d="M475.9 182.18H490.3" stroke="#4F6A28" stroke-width="1.8"/>
<path d="M480.33 179.62L485.46 184.75M480.33 184.75L485.46 179.62" stroke="#4F6A28" stroke-width="1.2"/>
<text x="491.7" y="186.38" font-size="12.2" text-anchor="start">40 min</text>
<rect x="192.8" y="283.4" width="205.7" height="188.6" fill="none" stroke="#000" stroke-width="1.45"/>
<path d="M192.8 472V475.6M211.5 472V475.6M230.2 472V475.6M248.9 472V475.6M267.6 472V475.6M286.3 472V475.6M305 472V475.6M323.7 472V475.6M342.4 472V475.6M361.1 472V475.6M379.8 472V475.6M398.5 472V475.6M189.2 472H192.8M189.2 448.43H192.8M189.2 424.85H192.8M189.2 401.27H192.8M189.2 377.7H192.8M189.2 354.12H192.8M189.2 330.55H192.8M189.2 306.98H192.8M189.2 283.4H192.8" stroke="#000" stroke-width="1.45"/>
<text x="192.8" y="489" font-size="11.3" text-anchor="middle">-2</text>
<text x="211.5" y="489" font-size="11.3" text-anchor="middle">0</text>
<text x="230.2" y="489" font-size="11.3" text-anchor="middle">2</text>
<text x="248.9" y="489" font-size="11.3" text-anchor="middle">4</text>
<text x="267.6" y="489" font-size="11.3" text-anchor="middle">6</text>
<text x="286.3" y="489" font-size="11.3" text-anchor="middle">8</text>
<text x="305" y="489" font-size="11.3" text-anchor="middle">10</text>
<text x="323.7" y="489" font-size="11.3" text-anchor="middle">12</text>
<text x="342.4" y="489" font-size="11.3" text-anchor="middle">14</text>
<text x="361.1" y="489" font-size="11.3" text-anchor="middle">16</text>
<text x="379.8" y="489" font-size="11.3" text-anchor="middle">18</text>
<text x="398.5" y="489" font-size="11.3" text-anchor="middle">20</text>
<text x="184" y="475.84" font-size="11.3" text-anchor="end">0</text>
<text x="184" y="452.27" font-size="11.3" text-anchor="end">1000</text>
<text x="184" y="428.69" font-size="11.3" text-anchor="end">2000</text>
<text x="184" y="405.12" font-size="11.3" text-anchor="end">3000</text>
<text x="184" y="381.54" font-size="11.3" text-anchor="end">4000</text>
<text x="184" y="357.97" font-size="11.3" text-anchor="end">5000</text>
<text x="184" y="334.39" font-size="11.3" text-anchor="end">6000</text>
<text x="184" y="310.82" font-size="11.3" text-anchor="end">7000</text>
<text x="184" y="287.24" font-size="11.3" text-anchor="end">8000</text>
<polyline points="191.87,472 196.54,472 201.22,472 205.89,472 210.56,472 215.24,472 219.92,469.92 224.59,453.31 229.27,446.13 233.94,442.01 238.62,438.19 243.29,434.86 247.97,431.71 252.64,428.01 257.31,424.83 261.99,420.21 266.67,416.77 271.34,414.79 276.01,415.42 280.69,417.55 285.37,421.23 290.04,426.25 294.72,430.2 299.39,434.65 304.06,440.61 308.74,444.21 313.42,448.4 318.09,451.66 322.76,453.89 327.44,456.11 332.12,457.69 336.79,458.96 341.47,460.08 346.14,461.07 350.81,461.98 355.49,462.77 360.16,463.41 364.84,463.96 369.51,464.44 374.19,464.85 378.87,465.21 383.54,465.55 388.22,465.85 392.89,466.1 397.56,466.31" fill="none" stroke="#000000" stroke-width="1.8" stroke-linejoin="round"/>
<circle cx="191.87" cy="472" r="2.18" fill="none" stroke="#000000" stroke-width="1.15"/>
<circle cx="196.54" cy="472" r="2.18" fill="none" stroke="#000000" stroke-width="1.15"/>
<circle cx="201.22" cy="472" r="2.18" fill="none" stroke="#000000" stroke-width="1.15"/>
<circle cx="205.89" cy="472" r="2.18" fill="none" stroke="#000000" stroke-width="1.15"/>
<circle cx="210.56" cy="472" r="2.18" fill="none" stroke="#000000" stroke-width="1.15"/>
<circle cx="215.24" cy="472" r="2.18" fill="none" stroke="#000000" stroke-width="1.15"/>
<circle cx="219.92" cy="469.92" r="2.18" fill="none" stroke="#000000" stroke-width="1.15"/>
<circle cx="224.59" cy="453.31" r="2.18" fill="none" stroke="#000000" stroke-width="1.15"/>
<circle cx="229.27" cy="446.13" r="2.18" fill="none" stroke="#000000" stroke-width="1.15"/>
<circle cx="233.94" cy="442.01" r="2.18" fill="none" stroke="#000000" stroke-width="1.15"/>
<circle cx="238.62" cy="438.19" r="2.18" fill="none" stroke="#000000" stroke-width="1.15"/>
<circle cx="243.29" cy="434.86" r="2.18" fill="none" stroke="#000000" stroke-width="1.15"/>
<circle cx="247.97" cy="431.71" r="2.18" fill="none" stroke="#000000" stroke-width="1.15"/>
<circle cx="252.64" cy="428.01" r="2.18" fill="none" stroke="#000000" stroke-width="1.15"/>
<circle cx="257.31" cy="424.83" r="2.18" fill="none" stroke="#000000" stroke-width="1.15"/>
<circle cx="261.99" cy="420.21" r="2.18" fill="none" stroke="#000000" stroke-width="1.15"/>
<circle cx="266.67" cy="416.77" r="2.18" fill="none" stroke="#000000" stroke-width="1.15"/>
<circle cx="271.34" cy="414.79" r="2.18" fill="none" stroke="#000000" stroke-width="1.15"/>
<circle cx="276.01" cy="415.42" r="2.18" fill="none" stroke="#000000" stroke-width="1.15"/>
<circle cx="280.69" cy="417.55" r="2.18" fill="none" stroke="#000000" stroke-width="1.15"/>
<circle cx="285.37" cy="421.23" r="2.18" fill="none" stroke="#000000" stroke-width="1.15"/>
<circle cx="290.04" cy="426.25" r="2.18" fill="none" stroke="#000000" stroke-width="1.15"/>
<circle cx="294.72" cy="430.2" r="2.18" fill="none" stroke="#000000" stroke-width="1.15"/>
<circle cx="299.39" cy="434.65" r="2.18" fill="none" stroke="#000000" stroke-width="1.15"/>
<circle cx="304.06" cy="440.61" r="2.18" fill="none" stroke="#000000" stroke-width="1.15"/>
<circle cx="308.74" cy="444.21" r="2.18" fill="none" stroke="#000000" stroke-width="1.15"/>
<circle cx="313.42" cy="448.4" r="2.18" fill="none" stroke="#000000" stroke-width="1.15"/>
<circle cx="318.09" cy="451.66" r="2.18" fill="none" stroke="#000000" stroke-width="1.15"/>
<circle cx="322.76" cy="453.89" r="2.18" fill="none" stroke="#000000" stroke-width="1.15"/>
<circle cx="327.44" cy="456.11" r="2.18" fill="none" stroke="#000000" stroke-width="1.15"/>
<circle cx="332.12" cy="457.69" r="2.18" fill="none" stroke="#000000" stroke-width="1.15"/>
<circle cx="336.79" cy="458.96" r="2.18" fill="none" stroke="#000000" stroke-width="1.15"/>
<circle cx="341.47" cy="460.08" r="2.18" fill="none" stroke="#000000" stroke-width="1.15"/>
<circle cx="346.14" cy="461.07" r="2.18" fill="none" stroke="#000000" stroke-width="1.15"/>
<circle cx="350.81" cy="461.98" r="2.18" fill="none" stroke="#000000" stroke-width="1.15"/>
<circle cx="355.49" cy="462.77" r="2.18" fill="none" stroke="#000000" stroke-width="1.15"/>
<circle cx="360.16" cy="463.41" r="2.18" fill="none" stroke="#000000" stroke-width="1.15"/>
<circle cx="364.84" cy="463.96" r="2.18" fill="none" stroke="#000000" stroke-width="1.15"/>
<circle cx="369.51" cy="464.44" r="2.18" fill="none" stroke="#000000" stroke-width="1.15"/>
<circle cx="374.19" cy="464.85" r="2.18" fill="none" stroke="#000000" stroke-width="1.15"/>
<circle cx="378.87" cy="465.21" r="2.18" fill="none" stroke="#000000" stroke-width="1.15"/>
<circle cx="383.54" cy="465.55" r="2.18" fill="none" stroke="#000000" stroke-width="1.15"/>
<circle cx="388.22" cy="465.85" r="2.18" fill="none" stroke="#000000" stroke-width="1.15"/>
<circle cx="392.89" cy="466.1" r="2.18" fill="none" stroke="#000000" stroke-width="1.15"/>
<circle cx="397.56" cy="466.31" r="2.18" fill="none" stroke="#000000" stroke-width="1.15"/>
<polyline points="191.87,472 196.54,472 201.22,472 205.89,472 210.56,472 215.24,472 219.92,453.82 224.59,444.7 229.27,437.81 233.94,431.99 238.62,427.44 243.29,423.33 247.97,418.81 252.64,409.92 257.31,401.27 261.99,391.43 266.67,386.34 271.34,383.89 276.01,382.35 280.69,383.12 285.37,385.61 290.04,389.78 294.72,397.75 299.39,408.58 304.06,418.81 308.74,426.77 313.42,433.14 318.09,438.47 322.76,443.28 327.44,447.67 332.12,450.93 336.79,453.63 341.47,455.67 346.14,457.28 350.81,458.63 355.49,459.79 360.16,460.83 364.84,461.77 369.51,462.6 374.19,463.32 378.87,463.94 383.54,464.51 388.22,465.03 392.89,465.47 397.56,465.81" fill="none" stroke="#FF0000" stroke-width="1.8" stroke-linejoin="round"/>
<rect x="189.8" y="469.93" width="4.14" height="4.14" fill="none" stroke="#FF0000" stroke-width="1.15"/>
<rect x="194.47" y="469.93" width="4.14" height="4.14" fill="none" stroke="#FF0000" stroke-width="1.15"/>
<rect x="199.15" y="469.93" width="4.14" height="4.14" fill="none" stroke="#FF0000" stroke-width="1.15"/>
<rect x="203.82" y="469.93" width="4.14" height="4.14" fill="none" stroke="#FF0000" stroke-width="1.15"/>
<rect x="208.5" y="469.93" width="4.14" height="4.14" fill="none" stroke="#FF0000" stroke-width="1.15"/>
<rect x="213.17" y="469.93" width="4.14" height="4.14" fill="none" stroke="#FF0000" stroke-width="1.15"/>
<rect x="217.85" y="451.75" width="4.14" height="4.14" fill="none" stroke="#FF0000" stroke-width="1.15"/>
<rect x="222.52" y="442.63" width="4.14" height="4.14" fill="none" stroke="#FF0000" stroke-width="1.15"/>
<rect x="227.2" y="435.74" width="4.14" height="4.14" fill="none" stroke="#FF0000" stroke-width="1.15"/>
<rect x="231.87" y="429.92" width="4.14" height="4.14" fill="none" stroke="#FF0000" stroke-width="1.15"/>
<rect x="236.55" y="425.37" width="4.14" height="4.14" fill="none" stroke="#FF0000" stroke-width="1.15"/>
<rect x="241.22" y="421.26" width="4.14" height="4.14" fill="none" stroke="#FF0000" stroke-width="1.15"/>
<rect x="245.9" y="416.74" width="4.14" height="4.14" fill="none" stroke="#FF0000" stroke-width="1.15"/>
<rect x="250.57" y="407.85" width="4.14" height="4.14" fill="none" stroke="#FF0000" stroke-width="1.15"/>
<rect x="255.25" y="399.2" width="4.14" height="4.14" fill="none" stroke="#FF0000" stroke-width="1.15"/>
<rect x="259.92" y="389.36" width="4.14" height="4.14" fill="none" stroke="#FF0000" stroke-width="1.15"/>
<rect x="264.6" y="384.27" width="4.14" height="4.14" fill="none" stroke="#FF0000" stroke-width="1.15"/>
<rect x="269.27" y="381.82" width="4.14" height="4.14" fill="none" stroke="#FF0000" stroke-width="1.15"/>
<rect x="273.94" y="380.28" width="4.14" height="4.14" fill="none" stroke="#FF0000" stroke-width="1.15"/>
<rect x="278.62" y="381.05" width="4.14" height="4.14" fill="none" stroke="#FF0000" stroke-width="1.15"/>
<rect x="283.3" y="383.54" width="4.14" height="4.14" fill="none" stroke="#FF0000" stroke-width="1.15"/>
<rect x="287.97" y="387.71" width="4.14" height="4.14" fill="none" stroke="#FF0000" stroke-width="1.15"/>
<rect x="292.65" y="395.68" width="4.14" height="4.14" fill="none" stroke="#FF0000" stroke-width="1.15"/>
<rect x="297.32" y="406.51" width="4.14" height="4.14" fill="none" stroke="#FF0000" stroke-width="1.15"/>
<rect x="302" y="416.74" width="4.14" height="4.14" fill="none" stroke="#FF0000" stroke-width="1.15"/>
<rect x="306.67" y="424.7" width="4.14" height="4.14" fill="none" stroke="#FF0000" stroke-width="1.15"/>
<rect x="311.35" y="431.07" width="4.14" height="4.14" fill="none" stroke="#FF0000" stroke-width="1.15"/>
<rect x="316.02" y="436.4" width="4.14" height="4.14" fill="none" stroke="#FF0000" stroke-width="1.15"/>
<rect x="320.69" y="441.21" width="4.14" height="4.14" fill="none" stroke="#FF0000" stroke-width="1.15"/>
<rect x="325.37" y="445.6" width="4.14" height="4.14" fill="none" stroke="#FF0000" stroke-width="1.15"/>
<rect x="330.05" y="448.86" width="4.14" height="4.14" fill="none" stroke="#FF0000" stroke-width="1.15"/>
<rect x="334.72" y="451.56" width="4.14" height="4.14" fill="none" stroke="#FF0000" stroke-width="1.15"/>
<rect x="339.4" y="453.6" width="4.14" height="4.14" fill="none" stroke="#FF0000" stroke-width="1.15"/>
<rect x="344.07" y="455.21" width="4.14" height="4.14" fill="none" stroke="#FF0000" stroke-width="1.15"/>
<rect x="348.75" y="456.56" width="4.14" height="4.14" fill="none" stroke="#FF0000" stroke-width="1.15"/>
<rect x="353.42" y="457.72" width="4.14" height="4.14" fill="none" stroke="#FF0000" stroke-width="1.15"/>
<rect x="358.09" y="458.76" width="4.14" height="4.14" fill="none" stroke="#FF0000" stroke-width="1.15"/>
<rect x="362.77" y="459.7" width="4.14" height="4.14" fill="none" stroke="#FF0000" stroke-width="1.15"/>
<rect x="367.44" y="460.53" width="4.14" height="4.14" fill="none" stroke="#FF0000" stroke-width="1.15"/>
<rect x="372.12" y="461.25" width="4.14" height="4.14" fill="none" stroke="#FF0000" stroke-width="1.15"/>
<rect x="376.8" y="461.87" width="4.14" height="4.14" fill="none" stroke="#FF0000" stroke-width="1.15"/>
<rect x="381.47" y="462.44" width="4.14" height="4.14" fill="none" stroke="#FF0000" stroke-width="1.15"/>
<rect x="386.15" y="462.96" width="4.14" height="4.14" fill="none" stroke="#FF0000" stroke-width="1.15"/>
<rect x="390.82" y="463.4" width="4.14" height="4.14" fill="none" stroke="#FF0000" stroke-width="1.15"/>
<rect x="395.5" y="463.74" width="4.14" height="4.14" fill="none" stroke="#FF0000" stroke-width="1.15"/>
<polyline points="191.87,472 196.54,472 201.22,472 205.89,472 210.56,472 215.24,456.16 219.92,432.5 224.59,423.78 229.27,419.92 233.94,414.94 238.62,406.05 243.29,396.1 247.97,384.55 252.64,375.76 257.31,361.84 261.99,351.03 266.67,340.1 271.34,330.92 276.01,320.55 280.69,325.66 285.37,340.95 290.04,361.46 294.72,378.88 299.39,397.74 304.06,413.49 308.74,422.16 313.42,430 318.09,436.56 322.76,441.98 327.44,446.19 332.12,449 336.79,451.31 341.47,453.32 346.14,455.23 350.81,457.1 355.49,458.73 360.16,459.94 364.84,460.89 369.51,461.7 374.19,462.38 378.87,462.99 383.54,463.56 388.22,464.07 392.89,464.52 397.56,464.87" fill="none" stroke="#3397BC" stroke-width="1.8" stroke-linejoin="round"/>
<path d="M189.56 472H194.17M191.87 469.7V474.3" stroke="#3397BC" stroke-width="1.15"/>
<path d="M194.24 472H198.84M196.54 469.7V474.3" stroke="#3397BC" stroke-width="1.15"/>
<path d="M198.91 472H203.52M201.22 469.7V474.3" stroke="#3397BC" stroke-width="1.15"/>
<path d="M203.59 472H208.19M205.89 469.7V474.3" stroke="#3397BC" stroke-width="1.15"/>
<path d="M208.26 472H212.87M210.56 469.7V474.3" stroke="#3397BC" stroke-width="1.15"/>
<path d="M212.94 456.16H217.54M215.24 453.86V458.46" stroke="#3397BC" stroke-width="1.15"/>
<path d="M217.62 432.5H222.22M219.92 430.2V434.8" stroke="#3397BC" stroke-width="1.15"/>
<path d="M222.29 423.78H226.89M224.59 421.48V426.08" stroke="#3397BC" stroke-width="1.15"/>
<path d="M226.97 419.92H231.57M229.27 417.62V422.22" stroke="#3397BC" stroke-width="1.15"/>
<path d="M231.64 414.94H236.24M233.94 412.64V417.24" stroke="#3397BC" stroke-width="1.15"/>
<path d="M236.31 406.05H240.92M238.62 403.75V408.35" stroke="#3397BC" stroke-width="1.15"/>
<path d="M240.99 396.1H245.59M243.29 393.8V398.4" stroke="#3397BC" stroke-width="1.15"/>
<path d="M245.66 384.55H250.27M247.97 382.25V386.85" stroke="#3397BC" stroke-width="1.15"/>
<path d="M250.34 375.76H254.94M252.64 373.46V378.06" stroke="#3397BC" stroke-width="1.15"/>
<path d="M255.01 361.84H259.62M257.31 359.54V364.14" stroke="#3397BC" stroke-width="1.15"/>
<path d="M259.69 351.03H264.29M261.99 348.73V353.33" stroke="#3397BC" stroke-width="1.15"/>
<path d="M264.37 340.1H268.97M266.67 337.8V342.4" stroke="#3397BC" stroke-width="1.15"/>
<path d="M269.04 330.92H273.64M271.34 328.62V333.22" stroke="#3397BC" stroke-width="1.15"/>
<path d="M273.71 320.55H278.31M276.01 318.25V322.85" stroke="#3397BC" stroke-width="1.15"/>
<path d="M278.39 325.66H282.99M280.69 323.36V327.96" stroke="#3397BC" stroke-width="1.15"/>
<path d="M283.06 340.95H287.67M285.37 338.65V343.25" stroke="#3397BC" stroke-width="1.15"/>
<path d="M287.74 361.46H292.34M290.04 359.16V363.76" stroke="#3397BC" stroke-width="1.15"/>
<path d="M292.42 378.88H297.02M294.72 376.58V381.18" stroke="#3397BC" stroke-width="1.15"/>
<path d="M297.09 397.74H301.69M299.39 395.44V400.04" stroke="#3397BC" stroke-width="1.15"/>
<path d="M301.76 413.49H306.37M304.06 411.19V415.79" stroke="#3397BC" stroke-width="1.15"/>
<path d="M306.44 422.16H311.04M308.74 419.86V424.46" stroke="#3397BC" stroke-width="1.15"/>
<path d="M311.12 430H315.72M313.42 427.7V432.3" stroke="#3397BC" stroke-width="1.15"/>
<path d="M315.79 436.56H320.39M318.09 434.26V438.86" stroke="#3397BC" stroke-width="1.15"/>
<path d="M320.46 441.98H325.06M322.76 439.68V444.28" stroke="#3397BC" stroke-width="1.15"/>
<path d="M325.14 446.19H329.74M327.44 443.89V448.49" stroke="#3397BC" stroke-width="1.15"/>
<path d="M329.81 449H334.42M332.12 446.7V451.3" stroke="#3397BC" stroke-width="1.15"/>
<path d="M334.49 451.31H339.09M336.79 449.01V453.61" stroke="#3397BC" stroke-width="1.15"/>
<path d="M339.17 453.32H343.77M341.47 451.02V455.62" stroke="#3397BC" stroke-width="1.15"/>
<path d="M343.84 455.23H348.44M346.14 452.93V457.53" stroke="#3397BC" stroke-width="1.15"/>
<path d="M348.51 457.1H353.12M350.81 454.8V459.4" stroke="#3397BC" stroke-width="1.15"/>
<path d="M353.19 458.73H357.79M355.49 456.43V461.03" stroke="#3397BC" stroke-width="1.15"/>
<path d="M357.86 459.94H362.46M360.16 457.64V462.24" stroke="#3397BC" stroke-width="1.15"/>
<path d="M362.54 460.89H367.14M364.84 458.59V463.19" stroke="#3397BC" stroke-width="1.15"/>
<path d="M367.21 461.7H371.81M369.51 459.4V464" stroke="#3397BC" stroke-width="1.15"/>
<path d="M371.89 462.38H376.49M374.19 460.08V464.68" stroke="#3397BC" stroke-width="1.15"/>
<path d="M376.56 462.99H381.17M378.87 460.69V465.29" stroke="#3397BC" stroke-width="1.15"/>
<path d="M381.24 463.56H385.84M383.54 461.26V465.86" stroke="#3397BC" stroke-width="1.15"/>
<path d="M385.92 464.07H390.52M388.22 461.77V466.37" stroke="#3397BC" stroke-width="1.15"/>
<path d="M390.59 464.52H395.19M392.89 462.22V466.82" stroke="#3397BC" stroke-width="1.15"/>
<path d="M395.26 464.87H399.87M397.56 462.57V467.17" stroke="#3397BC" stroke-width="1.15"/>
<polyline points="191.87,472 196.54,472 201.22,472 205.89,472 210.56,466.8 215.24,439.16 219.92,412.75 224.59,336.68 229.27,338.45 233.94,357.28 238.62,370.04 243.29,377.24 247.97,379.34 252.64,375.47 257.31,368.61 261.99,359.29 266.67,348.78 271.34,340.97 276.01,336.09 280.69,336.69 285.37,343.9 290.04,354.48 294.72,368.9 299.39,382.95 304.06,397.78 308.74,408.45 313.42,419.32 318.09,427.76 322.76,433.88 327.44,438.88 332.12,443.1 336.79,446.74 341.47,449.9 346.14,452.73 350.81,454.94 355.49,456.66 360.16,458.1 364.84,459.27 369.51,460.26 374.19,461.1 378.87,461.76 383.54,462.25 388.22,462.69 392.89,463.04 397.56,463.25" fill="none" stroke="#D20000" stroke-width="1.8" stroke-linejoin="round"/>
<path d="M191.87 469.7L194.17 472L191.87 474.3L189.56 472Z" fill="none" stroke="#D20000" stroke-width="1.15"/>
<path d="M196.54 469.7L198.84 472L196.54 474.3L194.24 472Z" fill="none" stroke="#D20000" stroke-width="1.15"/>
<path d="M201.22 469.7L203.52 472L201.22 474.3L198.91 472Z" fill="none" stroke="#D20000" stroke-width="1.15"/>
<path d="M205.89 469.7L208.19 472L205.89 474.3L203.59 472Z" fill="none" stroke="#D20000" stroke-width="1.15"/>
<path d="M210.56 464.5L212.87 466.8L210.56 469.1L208.26 466.8Z" fill="none" stroke="#D20000" stroke-width="1.15"/>
<path d="M215.24 436.86L217.54 439.16L215.24 441.46L212.94 439.16Z" fill="none" stroke="#D20000" stroke-width="1.15"/>
<path d="M219.92 410.45L222.22 412.75L219.92 415.05L217.62 412.75Z" fill="none" stroke="#D20000" stroke-width="1.15"/>
<path d="M224.59 334.38L226.89 336.68L224.59 338.98L222.29 336.68Z" fill="none" stroke="#D20000" stroke-width="1.15"/>
<path d="M229.27 336.15L231.57 338.45L229.27 340.75L226.97 338.45Z" fill="none" stroke="#D20000" stroke-width="1.15"/>
<path d="M233.94 354.98L236.24 357.28L233.94 359.58L231.64 357.28Z" fill="none" stroke="#D20000" stroke-width="1.15"/>
<path d="M238.62 367.74L240.92 370.04L238.62 372.34L236.31 370.04Z" fill="none" stroke="#D20000" stroke-width="1.15"/>
<path d="M243.29 374.94L245.59 377.24L243.29 379.54L240.99 377.24Z" fill="none" stroke="#D20000" stroke-width="1.15"/>
<path d="M247.97 377.04L250.27 379.34L247.97 381.64L245.66 379.34Z" fill="none" stroke="#D20000" stroke-width="1.15"/>
<path d="M252.64 373.17L254.94 375.47L252.64 377.77L250.34 375.47Z" fill="none" stroke="#D20000" stroke-width="1.15"/>
<path d="M257.31 366.31L259.62 368.61L257.31 370.91L255.01 368.61Z" fill="none" stroke="#D20000" stroke-width="1.15"/>
<path d="M261.99 356.99L264.29 359.29L261.99 361.59L259.69 359.29Z" fill="none" stroke="#D20000" stroke-width="1.15"/>
<path d="M266.67 346.48L268.97 348.78L266.67 351.08L264.37 348.78Z" fill="none" stroke="#D20000" stroke-width="1.15"/>
<path d="M271.34 338.67L273.64 340.97L271.34 343.27L269.04 340.97Z" fill="none" stroke="#D20000" stroke-width="1.15"/>
<path d="M276.01 333.79L278.31 336.09L276.01 338.39L273.71 336.09Z" fill="none" stroke="#D20000" stroke-width="1.15"/>
<path d="M280.69 334.39L282.99 336.69L280.69 338.99L278.39 336.69Z" fill="none" stroke="#D20000" stroke-width="1.15"/>
<path d="M285.37 341.6L287.67 343.9L285.37 346.2L283.06 343.9Z" fill="none" stroke="#D20000" stroke-width="1.15"/>
<path d="M290.04 352.18L292.34 354.48L290.04 356.78L287.74 354.48Z" fill="none" stroke="#D20000" stroke-width="1.15"/>
<path d="M294.72 366.6L297.02 368.9L294.72 371.2L292.42 368.9Z" fill="none" stroke="#D20000" stroke-width="1.15"/>
<path d="M299.39 380.65L301.69 382.95L299.39 385.25L297.09 382.95Z" fill="none" stroke="#D20000" stroke-width="1.15"/>
<path d="M304.06 395.48L306.37 397.78L304.06 400.08L301.76 397.78Z" fill="none" stroke="#D20000" stroke-width="1.15"/>
<path d="M308.74 406.15L311.04 408.45L308.74 410.75L306.44 408.45Z" fill="none" stroke="#D20000" stroke-width="1.15"/>
<path d="M313.42 417.02L315.72 419.32L313.42 421.62L311.12 419.32Z" fill="none" stroke="#D20000" stroke-width="1.15"/>
<path d="M318.09 425.46L320.39 427.76L318.09 430.06L315.79 427.76Z" fill="none" stroke="#D20000" stroke-width="1.15"/>
<path d="M322.76 431.58L325.06 433.88L322.76 436.18L320.46 433.88Z" fill="none" stroke="#D20000" stroke-width="1.15"/>
<path d="M327.44 436.58L329.74 438.88L327.44 441.18L325.14 438.88Z" fill="none" stroke="#D20000" stroke-width="1.15"/>
<path d="M332.12 440.8L334.42 443.1L332.12 445.4L329.81 443.1Z" fill="none" stroke="#D20000" stroke-width="1.15"/>
<path d="M336.79 444.44L339.09 446.74L336.79 449.04L334.49 446.74Z" fill="none" stroke="#D20000" stroke-width="1.15"/>
<path d="M341.47 447.6L343.77 449.9L341.47 452.2L339.17 449.9Z" fill="none" stroke="#D20000" stroke-width="1.15"/>
<path d="M346.14 450.43L348.44 452.73L346.14 455.03L343.84 452.73Z" fill="none" stroke="#D20000" stroke-width="1.15"/>
<path d="M350.81 452.64L353.12 454.94L350.81 457.24L348.51 454.94Z" fill="none" stroke="#D20000" stroke-width="1.15"/>
<path d="M355.49 454.36L357.79 456.66L355.49 458.96L353.19 456.66Z" fill="none" stroke="#D20000" stroke-width="1.15"/>
<path d="M360.16 455.8L362.46 458.1L360.16 460.4L357.86 458.1Z" fill="none" stroke="#D20000" stroke-width="1.15"/>
<path d="M364.84 456.97L367.14 459.27L364.84 461.57L362.54 459.27Z" fill="none" stroke="#D20000" stroke-width="1.15"/>
<path d="M369.51 457.96L371.81 460.26L369.51 462.56L367.21 460.26Z" fill="none" stroke="#D20000" stroke-width="1.15"/>
<path d="M374.19 458.8L376.49 461.1L374.19 463.4L371.89 461.1Z" fill="none" stroke="#D20000" stroke-width="1.15"/>
<path d="M378.87 459.46L381.17 461.76L378.87 464.06L376.56 461.76Z" fill="none" stroke="#D20000" stroke-width="1.15"/>
<path d="M383.54 459.95L385.84 462.25L383.54 464.55L381.24 462.25Z" fill="none" stroke="#D20000" stroke-width="1.15"/>
<path d="M388.22 460.39L390.52 462.69L388.22 464.99L385.92 462.69Z" fill="none" stroke="#D20000" stroke-width="1.15"/>
<path d="M392.89 460.74L395.19 463.04L392.89 465.34L390.59 463.04Z" fill="none" stroke="#D20000" stroke-width="1.15"/>
<path d="M397.56 460.95L399.87 463.25L397.56 465.55L395.26 463.25Z" fill="none" stroke="#D20000" stroke-width="1.15"/>
<polyline points="191.87,472 196.54,472 201.22,472 205.89,472 210.56,455.5 215.24,417.88 219.92,392 224.59,377.7 229.27,370.47 233.94,365.7 238.62,365.44 243.29,366.01 247.97,365.07 252.64,356.52 257.31,347.5 261.99,337.81 266.67,328.71 271.34,317.62 276.01,306.3 280.69,297.2 285.37,294.24 290.04,301.72 294.72,317.92 299.39,343.22 304.06,363.22 308.74,382.66 313.42,399.7 318.09,414.74 322.76,424.92 327.44,433.35 332.12,438.47 336.79,441.43 341.47,444.3 346.14,447.04 350.81,449.86 355.49,452.33 360.16,454.43 364.84,455.98 369.51,457.15 374.19,458.01 378.87,458.69 383.54,459.25 388.22,459.74 392.89,460.2 397.56,460.61" fill="none" stroke="#4F6A28" stroke-width="1.8" stroke-linejoin="round"/>
<path d="M189.68 469.81L194.05 474.19M189.68 474.19L194.05 469.81" stroke="#4F6A28" stroke-width="1.15"/>
<path d="M194.36 469.81L198.73 474.19M194.36 474.19L198.73 469.81" stroke="#4F6A28" stroke-width="1.15"/>
<path d="M199.03 469.81L203.4 474.19M199.03 474.19L203.4 469.81" stroke="#4F6A28" stroke-width="1.15"/>
<path d="M203.71 469.81L208.08 474.19M203.71 474.19L208.08 469.81" stroke="#4F6A28" stroke-width="1.15"/>
<path d="M208.38 453.31L212.75 457.68M208.38 457.68L212.75 453.31" stroke="#4F6A28" stroke-width="1.15"/>
<path d="M213.06 415.69L217.43 420.06M213.06 420.06L217.43 415.69" stroke="#4F6A28" stroke-width="1.15"/>
<path d="M217.73 389.82L222.1 394.19M217.73 394.19L222.1 389.82" stroke="#4F6A28" stroke-width="1.15"/>
<path d="M222.41 375.51L226.78 379.88M222.41 379.88L226.78 375.51" stroke="#4F6A28" stroke-width="1.15"/>
<path d="M227.08 368.28L231.45 372.65M227.08 372.65L231.45 368.28" stroke="#4F6A28" stroke-width="1.15"/>
<path d="M231.75 363.52L236.12 367.89M231.75 367.89L236.12 363.52" stroke="#4F6A28" stroke-width="1.15"/>
<path d="M236.43 363.26L240.8 367.63M236.43 367.63L240.8 363.26" stroke="#4F6A28" stroke-width="1.15"/>
<path d="M241.11 363.82L245.48 368.19M241.11 368.19L245.48 363.82" stroke="#4F6A28" stroke-width="1.15"/>
<path d="M245.78 362.89L250.15 367.26M245.78 367.26L250.15 362.89" stroke="#4F6A28" stroke-width="1.15"/>
<path d="M250.46 354.33L254.83 358.7M250.46 358.7L254.83 354.33" stroke="#4F6A28" stroke-width="1.15"/>
<path d="M255.13 345.32L259.5 349.69M255.13 349.69L259.5 345.32" stroke="#4F6A28" stroke-width="1.15"/>
<path d="M259.81 335.63L264.18 340M259.81 340L264.18 335.63" stroke="#4F6A28" stroke-width="1.15"/>
<path d="M264.48 326.52L268.85 330.89M264.48 330.89L268.85 326.52" stroke="#4F6A28" stroke-width="1.15"/>
<path d="M269.16 315.44L273.53 319.81M269.16 319.81L273.53 315.44" stroke="#4F6A28" stroke-width="1.15"/>
<path d="M273.83 304.11L278.2 308.48M273.83 308.48L278.2 304.11" stroke="#4F6A28" stroke-width="1.15"/>
<path d="M278.5 295.02L282.88 299.39M278.5 299.39L282.88 295.02" stroke="#4F6A28" stroke-width="1.15"/>
<path d="M283.18 292.06L287.55 296.43M283.18 296.43L287.55 292.06" stroke="#4F6A28" stroke-width="1.15"/>
<path d="M287.86 299.54L292.23 303.91M287.86 303.91L292.23 299.54" stroke="#4F6A28" stroke-width="1.15"/>
<path d="M292.53 315.74L296.9 320.11M292.53 320.11L296.9 315.74" stroke="#4F6A28" stroke-width="1.15"/>
<path d="M297.2 341.04L301.57 345.41M297.2 345.41L301.57 341.04" stroke="#4F6A28" stroke-width="1.15"/>
<path d="M301.88 361.03L306.25 365.4M301.88 365.4L306.25 361.03" stroke="#4F6A28" stroke-width="1.15"/>
<path d="M306.56 380.48L310.93 384.85M306.56 384.85L310.93 380.48" stroke="#4F6A28" stroke-width="1.15"/>
<path d="M311.23 397.51L315.6 401.88M311.23 401.88L315.6 397.51" stroke="#4F6A28" stroke-width="1.15"/>
<path d="M315.91 412.56L320.28 416.93M315.91 416.93L320.28 412.56" stroke="#4F6A28" stroke-width="1.15"/>
<path d="M320.58 422.74L324.95 427.11M320.58 427.11L324.95 422.74" stroke="#4F6A28" stroke-width="1.15"/>
<path d="M325.25 431.17L329.62 435.54M325.25 435.54L329.62 431.17" stroke="#4F6A28" stroke-width="1.15"/>
<path d="M329.93 436.28L334.3 440.65M329.93 440.65L334.3 436.28" stroke="#4F6A28" stroke-width="1.15"/>
<path d="M334.61 439.25L338.98 443.62M334.61 443.62L338.98 439.25" stroke="#4F6A28" stroke-width="1.15"/>
<path d="M339.28 442.11L343.65 446.48M339.28 446.48L343.65 442.11" stroke="#4F6A28" stroke-width="1.15"/>
<path d="M343.95 444.85L348.32 449.22M343.95 449.22L348.32 444.85" stroke="#4F6A28" stroke-width="1.15"/>
<path d="M348.63 447.67L353 452.04M348.63 452.04L353 447.67" stroke="#4F6A28" stroke-width="1.15"/>
<path d="M353.31 450.15L357.68 454.52M353.31 454.52L357.68 450.15" stroke="#4F6A28" stroke-width="1.15"/>
<path d="M357.98 452.24L362.35 456.61M357.98 456.61L362.35 452.24" stroke="#4F6A28" stroke-width="1.15"/>
<path d="M362.66 453.79L367.03 458.16M362.66 458.16L367.03 453.79" stroke="#4F6A28" stroke-width="1.15"/>
<path d="M367.33 454.96L371.7 459.33M367.33 459.33L371.7 454.96" stroke="#4F6A28" stroke-width="1.15"/>
<path d="M372 455.82L376.38 460.19M372 460.19L376.38 455.82" stroke="#4F6A28" stroke-width="1.15"/>
<path d="M376.68 456.5L381.05 460.87M376.68 460.87L381.05 456.5" stroke="#4F6A28" stroke-width="1.15"/>
<path d="M381.35 457.06L385.72 461.43M381.35 461.43L385.72 457.06" stroke="#4F6A28" stroke-width="1.15"/>
<path d="M386.03 457.56L390.4 461.93M386.03 461.93L390.4 457.56" stroke="#4F6A28" stroke-width="1.15"/>
<path d="M390.7 458.01L395.07 462.38M390.7 462.38L395.07 458.01" stroke="#4F6A28" stroke-width="1.15"/>
<path d="M395.38 458.42L399.75 462.79M395.38 462.79L399.75 458.42" stroke="#4F6A28" stroke-width="1.15"/>
<path d="M213.5 324.8L211.5 475" stroke="#000" stroke-width="1.7" stroke-dasharray="1.6 1.3"/>
<text x="197.2" y="322" font-size="14.2" text-anchor="start" word-spacing="1.5">Plasma on</text>
<text x="202.7" y="300.5" font-size="14" text-anchor="start">(c)</text>
<text x="304.4" y="505" font-size="13.6" text-anchor="middle">Time (min)</text>
<text transform="translate(155.6 416.7) rotate(-90)" font-size="13.6">C</text>
<text transform="translate(158.6 406.7) rotate(-90)" font-size="8.9">CO2</text>
<text transform="translate(155.6 385.3) rotate(-90)" font-size="13">(ppm)</text>
<path d="M335.9 345H350.3" stroke="#000000" stroke-width="1.8"/>
<circle cx="342.9" cy="345" r="2.66" fill="none" stroke="#000000" stroke-width="1.2"/>
<text x="351.7" y="349.2" font-size="12.2" text-anchor="start">5 min</text>
<path d="M335.9 361.15H350.3" stroke="#FF0000" stroke-width="1.8"/>
<rect x="340.29" y="358.54" width="5.22" height="5.22" fill="none" stroke="#FF0000" stroke-width="1.2"/>
<text x="351.7" y="365.35" font-size="12.2" text-anchor="start">10 min</text>
<path d="M335.9 377.3H350.3" stroke="#3397BC" stroke-width="1.8"/>
<path d="M340.3 377.3H345.5M342.9 374.7V379.9" stroke="#3397BC" stroke-width="1.2"/>
<text x="351.7" y="381.5" font-size="12.2" text-anchor="start">20 min</text>
<path d="M335.9 393.45H350.3" stroke="#D20000" stroke-width="1.8"/>
<path d="M342.9 390.75L345.6 393.45L342.9 396.15L340.2 393.45Z" fill="#D20000" stroke="#D20000" stroke-width="1.2"/>
<text x="351.7" y="397.65" font-size="12.2" text-anchor="start">30 min</text>
<path d="M335.9 409.6H350.3" stroke="#4F6A28" stroke-width="1.8"/>
<path d="M340.33 407.04L345.46 412.17M340.33 412.17L345.46 407.04" stroke="#4F6A28" stroke-width="1.2"/>
<text x="351.7" y="413.8" font-size="12.2" text-anchor="start">40 min</text>
</svg>
</body></html>
